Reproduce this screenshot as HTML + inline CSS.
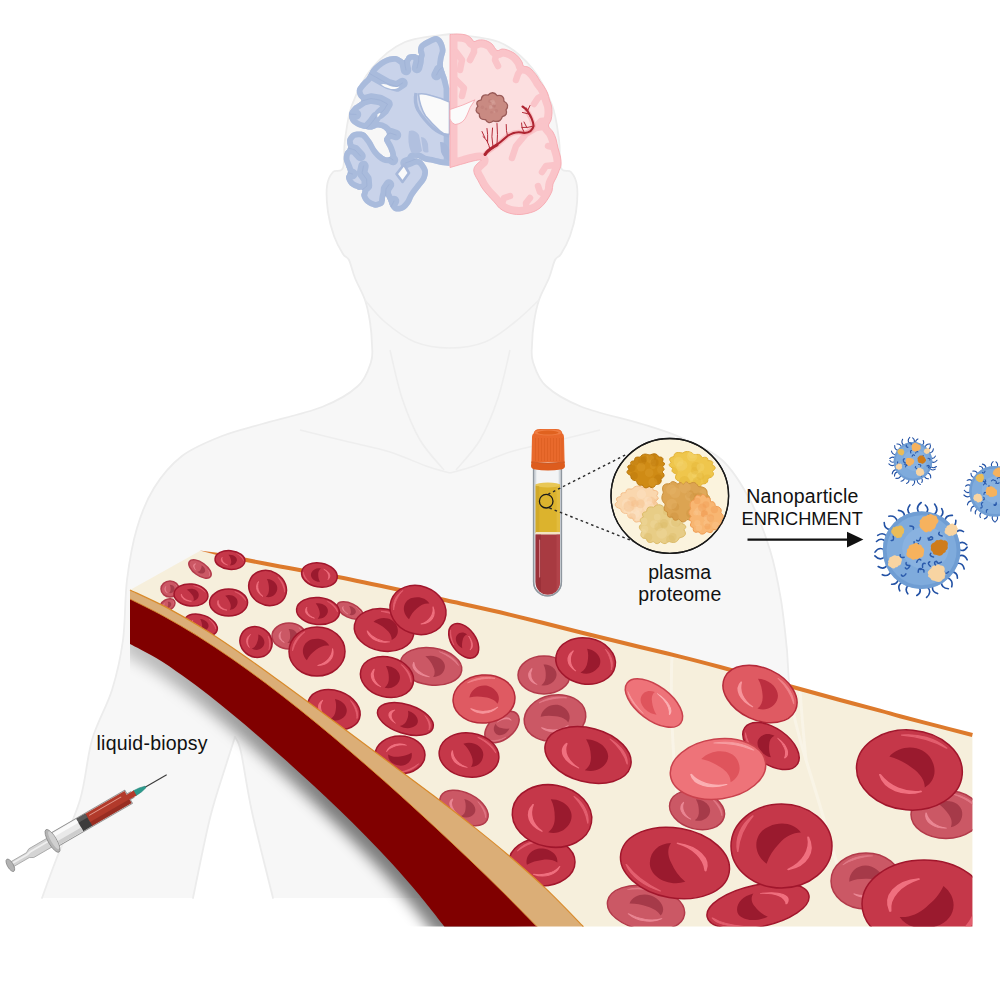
<!DOCTYPE html>
<html lang="en"><head><meta charset="utf-8"><title>Liquid biopsy plasma proteome nanoparticle enrichment</title>
<style>
html,body{margin:0;padding:0;background:#fff;}
body{width:1000px;height:1000px;overflow:hidden;}
svg{display:block;}
text{font-family:"Liberation Sans",sans-serif;fill:#111;}
</style></head><body>
<svg width="1000" height="1000" viewBox="0 0 1000 1000">
<defs>
<filter id="blur6" x="-20%" y="-20%" width="140%" height="140%"><feGaussianBlur stdDeviation="7"/></filter>
<clipPath id="vclip"><rect x="130" y="0" width="842.4" height="926.6"/></clipPath>
<linearGradient id="shg" gradientUnits="userSpaceOnUse" x1="130" y1="0" x2="330" y2="0"><stop offset="0" stop-color="#fff" stop-opacity="0.4"/><stop offset="1" stop-color="#fff" stop-opacity="1"/></linearGradient>
<mask id="shm" maskUnits="userSpaceOnUse" x="0" y="0" width="1000" height="1000"><rect width="1000" height="1000" fill="url(#shg)"/></mask>
</defs>
<rect width="1000" height="1000" fill="#fff"/>
<g id="body">
<path d="M450 34C442.5 35.3 418 36.3 405 42C392 47.7 380.8 57.5 372 68C363.2 78.5 356.5 93 352 105C347.5 117 346.5 129.5 345 140C343.5 150.5 345 162.7 343 168C341 173.3 335.7 169 333 172C330.3 175 327.8 179.3 327 186C326.2 192.7 326.8 203.7 328 212C329.2 220.3 331.5 229 334 236C336.5 243 340.5 250 343 254C345.5 258 347 256 349 260C351 264 352.3 271.3 355 278C357.7 284.7 362.5 292.7 365 300C367.5 307.3 368.8 314.5 370 322C371.2 329.5 371.8 338.3 372 345C372.2 351.7 373.3 355.2 371 362C368.7 368.8 366.2 378.5 358 386C349.8 393.5 338 400.7 322 407C306 413.3 278.7 419.2 262 424C245.3 428.8 235.3 430.7 222 436C208.7 441.3 193.3 447.3 182 456C170.7 464.7 161.5 476 154 488C146.5 500 141.5 512.7 137 528C132.5 543.3 129.3 561.3 127 580C124.7 598.7 125.5 621.7 123 640C120.5 658.3 117.2 673.3 112 690C106.8 706.7 97.3 721.7 92 740C86.7 758.3 86 780 80 800C74 820 62.3 843.7 56 860C49.7 876.3 44.3 891.7 42 898L193 898C195.8 884.7 204.5 840.2 210 818C215.5 795.8 221.8 778.5 226 765C230.2 751.5 233.5 741.7 235 737C236 739.5 238.2 739.5 241 752C243.8 764.5 246.7 787.7 252 812C257.3 836.3 269.5 883.7 273 898L700 898L790 700L787 650C786 641.7 783.8 616.7 781 600C778.2 583.3 775.2 566.7 770 550C764.8 533.3 758 515 750 500C742 485 733.3 470.3 722 460C710.7 449.7 695.3 444 682 438C668.7 432 658.7 429.2 642 424C625.3 418.8 598 413.3 582 407C566 400.7 554.2 393.5 546 386C537.8 378.5 535.3 368.8 533 362C530.7 355.2 531.8 351.7 532 345C532.2 338.3 532.8 329.5 534 322C535.2 314.5 536.5 307.3 539 300C541.5 292.7 546.3 284.7 549 278C551.7 271.3 553 264 555 260C557 256 558.5 258 561 254C563.5 250 567.5 243 570 236C572.5 229 574.8 220.3 576 212C577.2 203.7 577.8 192.7 577 186C576.2 179.3 573.7 175 571 172C568.3 169 563 173.3 561 168C559 162.7 560.5 150.5 559 140C557.5 129.5 556.5 117 552 105C547.5 93 540.8 78.5 532 68C523.2 57.5 512.7 47.7 499 42C485.3 36.3 458.2 35.3 450 34Z" fill="#f7f7f7"/>
<path d="M450 34C442.5 35.3 418 36.3 405 42C392 47.7 380.8 57.5 372 68C363.2 78.5 356.5 93 352 105C347.5 117 346.5 129.5 345 140C343.5 150.5 345 162.7 343 168C341 173.3 335.7 169 333 172C330.3 175 327.8 179.3 327 186C326.2 192.7 326.8 203.7 328 212C329.2 220.3 331.5 229 334 236C336.5 243 340.5 250 343 254C345.5 258 347 256 349 260C351 264 352.3 271.3 355 278C357.7 284.7 362.5 292.7 365 300C367.5 307.3 368.8 314.5 370 322C371.2 329.5 371.8 338.3 372 345C372.2 351.7 373.3 355.2 371 362C368.7 368.8 366.2 378.5 358 386C349.8 393.5 338 400.7 322 407C306 413.3 278.7 419.2 262 424C245.3 428.8 235.3 430.7 222 436C208.7 441.3 193.3 447.3 182 456C170.7 464.7 161.5 476 154 488C146.5 500 141.5 512.7 137 528C132.5 543.3 129.3 561.3 127 580C124.7 598.7 125.5 621.7 123 640C120.5 658.3 117.2 673.3 112 690C106.8 706.7 97.3 721.7 92 740C86.7 758.3 86 780 80 800C74 820 62.3 843.7 56 860C49.7 876.3 44.3 891.7 42 898" fill="none" stroke="#ececec" stroke-width="1.8" stroke-linejoin="round" stroke-linecap="round"/>
<path d="M193 898C195.8 884.7 204.5 840.2 210 818C215.5 795.8 221.8 778.5 226 765C230.2 751.5 233.5 741.7 235 737C236 739.5 238.2 739.5 241 752C243.8 764.5 246.7 787.7 252 812C257.3 836.3 269.5 883.7 273 898" fill="none" stroke="#ececec" stroke-width="1.8" stroke-linejoin="round" stroke-linecap="round"/>
<path d="M790 700L787 650C786 641.7 783.8 616.7 781 600C778.2 583.3 775.2 566.7 770 550C764.8 533.3 758 515 750 500C742 485 733.3 470.3 722 460C710.7 449.7 695.3 444 682 438C668.7 432 658.7 429.2 642 424C625.3 418.8 598 413.3 582 407C566 400.7 554.2 393.5 546 386C537.8 378.5 535.3 368.8 533 362C530.7 355.2 531.8 351.7 532 345C532.2 338.3 532.8 329.5 534 322C535.2 314.5 536.5 307.3 539 300C541.5 292.7 546.3 284.7 549 278C551.7 271.3 553 264 555 260C557 256 558.5 258 561 254C563.5 250 567.5 243 570 236C572.5 229 574.8 220.3 576 212C577.2 203.7 577.8 192.7 577 186C576.2 179.3 573.7 175 571 172C568.3 169 563 173.3 561 168C559 162.7 560.5 150.5 559 140C557.5 129.5 556.5 117 552 105C547.5 93 540.8 78.5 532 68C523.2 57.5 512.7 47.7 499 42C485.3 36.3 458.2 35.3 450 34" fill="none" stroke="#ececec" stroke-width="1.8" stroke-linejoin="round" stroke-linecap="round"/>
<path d="M365 300C368.3 303.7 376.7 315 385 322C393.3 329 404.2 337.7 415 342C425.8 346.3 438.3 348 450 348C461.7 348 474.2 346.3 485 342C495.8 337.7 506 329 515 322C524 315 535 303.7 539 300" fill="none" stroke="#eeeeee" stroke-width="1.6"/>
<path d="M300 430C307.5 431.8 330 437.3 345 441C360 444.7 376.5 447.8 390 452C403.5 456.2 416 462.5 426 466C436 469.5 446 471.8 450 473" fill="none" stroke="#eeeeee" stroke-width="1.6"/>
<path d="M600 430C592.5 431.8 570 437.3 555 441C540 444.7 523.5 447.8 510 452C496.5 456.2 484 462.5 474 466C464 469.5 454 471.8 450 473" fill="none" stroke="#eeeeee" stroke-width="1.6"/>
<path d="M390 350C392 358 397 383 402 398C407 413 413 428 420 440C427 452 440 465 444 470" fill="none" stroke="#eeeeee" stroke-width="1.6"/>
<path d="M510 350C508 358 503 383 498 398C493 413 487 428 480 440C473 452 460 465 456 470" fill="none" stroke="#eeeeee" stroke-width="1.6"/>
</g>
<g id="brain">
<clipPath id="lhc"><path d="M449.5 166C448.1 165.8 443.8 165.5 441 165C438.2 164.5 435.7 163.6 433 163C430.3 162.4 427.5 162.3 425 161.5C422.5 160.7 420 158.6 418 158C416 157.4 412.5 157.7 413 158C413.5 158.3 418.8 158.7 421 160C423.2 161.3 424.8 164 426 166C427.2 168 428 169.7 428 172C428 174.3 427.3 177.3 426 180C424.7 182.7 422 185.3 420 188C418 190.7 415.7 193.3 414 196C412.3 198.7 411.7 201.7 410 204C408.3 206.3 406.3 208.8 404 210C401.7 211.2 398.2 211.9 396 211.5C393.8 211.1 392.3 209.4 391 207.5C389.7 205.6 388.9 201.9 388 200C387.1 198.1 386.2 195.3 385.5 196C384.8 196.7 385.1 202.2 384 204C382.9 205.8 380.7 206.4 379 207C377.3 207.6 376.2 208.1 374 207.5C371.8 206.9 368.1 205.3 366 203.5C363.9 201.7 362.1 198.8 361.5 196.5C360.9 194.2 363.1 191.2 362.5 190C361.9 188.8 360.1 190.2 358 189.5C355.9 188.8 352 187.4 350 185.5C348 183.6 346.3 180.2 346 178C345.7 175.8 348 174 348 172C348 170 346.7 168 346 166C345.3 164 344.1 162.2 343.8 160C343.6 157.8 343.8 155 344.5 153C345.2 151 347.6 150.1 348 148C348.4 145.9 346.8 142.6 347 140.5C347.2 138.4 348.5 136.8 349.5 135.5C350.5 134.2 351.4 133.2 353 132.5C354.6 131.8 357 131.4 359 131.5C361 131.6 363 131.6 365 133C367 134.4 369 137.2 371 140C373 142.8 374.7 147.2 377 150C379.3 152.8 382.8 156 385 157C387.2 158 390 157.5 390.5 156C391 154.5 389.1 150.7 388 148C386.9 145.3 384.2 142.3 384 140C383.8 137.7 387 135.8 387 134C387 132.2 385.5 130.6 384 129.5C382.5 128.4 380 127.5 378 127.5C376 127.5 374 129.2 372 129.5C370 129.8 368.3 129.4 366 129C363.7 128.6 360.5 128.2 358 127C355.5 125.8 352.5 124.2 351 122C349.5 119.8 348.7 116.5 349 114C349.3 111.5 351.5 108.8 353 107C354.5 105.2 356.6 104.6 358 103.5C359.4 102.4 361.5 101.8 361.5 100.5C361.5 99.2 358.8 97.9 358 96C357.2 94.1 356.3 91.3 357 89C357.7 86.7 360.3 84 362 82C363.7 80 365.8 78.6 367 77C368.2 75.4 368.5 74.2 369.5 72.5C370.5 70.8 371.2 68.9 373 67C374.8 65.1 377.5 62.7 380 61C382.5 59.3 385.3 57.8 388 57C390.7 56.2 393.8 55.8 396 56C398.2 56.2 399.6 57.8 401 58.5C402.4 59.2 403.3 60.6 404.5 60C405.7 59.4 406.4 56 408 55C409.6 54 412.2 53.9 414 54C415.8 54.1 418.3 56.2 419 55.5C419.7 54.8 417.8 51.9 418 50C418.2 48.1 418.3 45.8 420 44C421.7 42.2 425.3 40.3 428 39C430.7 37.7 434 35.8 436.4 36C438.8 36.2 441 38.2 442.5 40.5C444 42.8 445.3 46.9 445.5 50C445.7 53.1 443.9 56.2 443.5 59C443.1 61.8 442.5 64 443 67C443.5 70 445.4 73.5 446.5 77C447.6 80.5 448.8 86.2 449.3 88Z"/></clipPath><clipPath id="rhc"><path d="M450 34.5C451.3 34.4 455.3 33.9 458 34C460.7 34.1 463.8 34.3 466 35C468.2 35.7 469.7 36.9 471 38C472.3 39.1 472.7 41.2 474 41.5C475.3 41.8 477.1 40.2 479 40C480.9 39.8 483.3 39.8 485.5 40.5C487.7 41.2 490.1 42.3 492 44C493.9 45.7 495.3 49.7 497 50.5C498.7 51.3 500.2 49.1 502 49C503.8 48.9 505.6 49.3 507.6 50C509.6 50.7 512.1 51.8 514 53C515.9 54.2 517.7 56 519 57.5C520.3 59 521.2 60.6 522 62C522.8 63.4 522.5 65.2 523.5 66C524.5 66.8 526.6 66.3 528 67C529.4 67.7 530.5 68.5 532 70C533.5 71.5 535.7 74.2 537 76C538.3 77.8 538.8 79.2 540 81C541.2 82.8 542.8 84.5 544 86.5C545.2 88.5 546.6 90.8 547.5 93C548.4 95.2 548.8 97.8 549.5 100C550.2 102.2 551.1 103.8 551.5 106C551.9 108.2 552.1 110.7 552 113C551.9 115.3 551.6 117.8 551 120C550.4 122.2 548.2 124 548.5 126C548.8 128 551.8 129.8 553 132C554.2 134.2 555.2 136.3 556 139C556.8 141.7 557.2 145 558 148C558.8 151 560 154.2 560.5 157C561 159.8 561.3 162.5 561 165C560.7 167.5 559.3 169.8 558.5 172C557.7 174.2 556.9 176 556 178C555.1 180 553.7 181.8 553 184C552.3 186.2 552.7 188.8 552 191C551.3 193.2 550.2 195 549 197C547.8 199 546.5 201.2 545 203C543.5 204.8 541.8 206.6 540 208C538.2 209.4 536.2 210.6 534 211.5C531.8 212.4 529.3 213 527 213.5C524.7 214 522.3 214.4 520 214.5C517.7 214.6 515.3 214.4 513 214C510.7 213.6 508.2 212.9 506 212C503.8 211.1 501.7 209.8 500 208.5C498.3 207.2 497.5 205.7 496 204C494.5 202.3 492.7 200.3 491 198.5C489.3 196.7 487.6 194.9 486 193C484.4 191.1 482.8 189.1 481.5 187C480.2 184.9 479.2 182.7 478 180.5C476.8 178.3 475.2 176 474.5 174C473.8 172 473.6 170.2 474 168.5C474.4 166.8 475.8 165.4 477 164C478.2 162.6 481.7 160.5 481 160C480.3 159.5 475.8 160.4 473 161C470.2 161.6 466.7 162.8 464 163.5C461.3 164.2 459.3 164.8 457 165.5C454.7 166.2 451.2 167.2 450 167.5Z"/></clipPath>
<path d="M449.5 166C448.1 165.8 443.8 165.5 441 165C438.2 164.5 435.7 163.6 433 163C430.3 162.4 427.5 162.3 425 161.5C422.5 160.7 420 158.6 418 158C416 157.4 412.5 157.7 413 158C413.5 158.3 418.8 158.7 421 160C423.2 161.3 424.8 164 426 166C427.2 168 428 169.7 428 172C428 174.3 427.3 177.3 426 180C424.7 182.7 422 185.3 420 188C418 190.7 415.7 193.3 414 196C412.3 198.7 411.7 201.7 410 204C408.3 206.3 406.3 208.8 404 210C401.7 211.2 398.2 211.9 396 211.5C393.8 211.1 392.3 209.4 391 207.5C389.7 205.6 388.9 201.9 388 200C387.1 198.1 386.2 195.3 385.5 196C384.8 196.7 385.1 202.2 384 204C382.9 205.8 380.7 206.4 379 207C377.3 207.6 376.2 208.1 374 207.5C371.8 206.9 368.1 205.3 366 203.5C363.9 201.7 362.1 198.8 361.5 196.5C360.9 194.2 363.1 191.2 362.5 190C361.9 188.8 360.1 190.2 358 189.5C355.9 188.8 352 187.4 350 185.5C348 183.6 346.3 180.2 346 178C345.7 175.8 348 174 348 172C348 170 346.7 168 346 166C345.3 164 344.1 162.2 343.8 160C343.6 157.8 343.8 155 344.5 153C345.2 151 347.6 150.1 348 148C348.4 145.9 346.8 142.6 347 140.5C347.2 138.4 348.5 136.8 349.5 135.5C350.5 134.2 351.4 133.2 353 132.5C354.6 131.8 357 131.4 359 131.5C361 131.6 363 131.6 365 133C367 134.4 369 137.2 371 140C373 142.8 374.7 147.2 377 150C379.3 152.8 382.8 156 385 157C387.2 158 390 157.5 390.5 156C391 154.5 389.1 150.7 388 148C386.9 145.3 384.2 142.3 384 140C383.8 137.7 387 135.8 387 134C387 132.2 385.5 130.6 384 129.5C382.5 128.4 380 127.5 378 127.5C376 127.5 374 129.2 372 129.5C370 129.8 368.3 129.4 366 129C363.7 128.6 360.5 128.2 358 127C355.5 125.8 352.5 124.2 351 122C349.5 119.8 348.7 116.5 349 114C349.3 111.5 351.5 108.8 353 107C354.5 105.2 356.6 104.6 358 103.5C359.4 102.4 361.5 101.8 361.5 100.5C361.5 99.2 358.8 97.9 358 96C357.2 94.1 356.3 91.3 357 89C357.7 86.7 360.3 84 362 82C363.7 80 365.8 78.6 367 77C368.2 75.4 368.5 74.2 369.5 72.5C370.5 70.8 371.2 68.9 373 67C374.8 65.1 377.5 62.7 380 61C382.5 59.3 385.3 57.8 388 57C390.7 56.2 393.8 55.8 396 56C398.2 56.2 399.6 57.8 401 58.5C402.4 59.2 403.3 60.6 404.5 60C405.7 59.4 406.4 56 408 55C409.6 54 412.2 53.9 414 54C415.8 54.1 418.3 56.2 419 55.5C419.7 54.8 417.8 51.9 418 50C418.2 48.1 418.3 45.8 420 44C421.7 42.2 425.3 40.3 428 39C430.7 37.7 434 35.8 436.4 36C438.8 36.2 441 38.2 442.5 40.5C444 42.8 445.3 46.9 445.5 50C445.7 53.1 443.9 56.2 443.5 59C443.1 61.8 442.5 64 443 67C443.5 70 445.4 73.5 446.5 77C447.6 80.5 448.8 86.2 449.3 88Z" fill="#c9d3ea"/>
<g clip-path="url(#lhc)">
<path d="M449.5 166C448.1 165.8 443.8 165.5 441 165C438.2 164.5 435.7 163.6 433 163C430.3 162.4 427.5 162.3 425 161.5C422.5 160.7 420 158.6 418 158C416 157.4 412.5 157.7 413 158C413.5 158.3 418.8 158.7 421 160C423.2 161.3 424.8 164 426 166C427.2 168 428 169.7 428 172C428 174.3 427.3 177.3 426 180C424.7 182.7 422 185.3 420 188C418 190.7 415.7 193.3 414 196C412.3 198.7 411.7 201.7 410 204C408.3 206.3 406.3 208.8 404 210C401.7 211.2 398.2 211.9 396 211.5C393.8 211.1 392.3 209.4 391 207.5C389.7 205.6 388.9 201.9 388 200C387.1 198.1 386.2 195.3 385.5 196C384.8 196.7 385.1 202.2 384 204C382.9 205.8 380.7 206.4 379 207C377.3 207.6 376.2 208.1 374 207.5C371.8 206.9 368.1 205.3 366 203.5C363.9 201.7 362.1 198.8 361.5 196.5C360.9 194.2 363.1 191.2 362.5 190C361.9 188.8 360.1 190.2 358 189.5C355.9 188.8 352 187.4 350 185.5C348 183.6 346.3 180.2 346 178C345.7 175.8 348 174 348 172C348 170 346.7 168 346 166C345.3 164 344.1 162.2 343.8 160C343.6 157.8 343.8 155 344.5 153C345.2 151 347.6 150.1 348 148C348.4 145.9 346.8 142.6 347 140.5C347.2 138.4 348.5 136.8 349.5 135.5C350.5 134.2 351.4 133.2 353 132.5C354.6 131.8 357 131.4 359 131.5C361 131.6 363 131.6 365 133C367 134.4 369 137.2 371 140C373 142.8 374.7 147.2 377 150C379.3 152.8 382.8 156 385 157C387.2 158 390 157.5 390.5 156C391 154.5 389.1 150.7 388 148C386.9 145.3 384.2 142.3 384 140C383.8 137.7 387 135.8 387 134C387 132.2 385.5 130.6 384 129.5C382.5 128.4 380 127.5 378 127.5C376 127.5 374 129.2 372 129.5C370 129.8 368.3 129.4 366 129C363.7 128.6 360.5 128.2 358 127C355.5 125.8 352.5 124.2 351 122C349.5 119.8 348.7 116.5 349 114C349.3 111.5 351.5 108.8 353 107C354.5 105.2 356.6 104.6 358 103.5C359.4 102.4 361.5 101.8 361.5 100.5C361.5 99.2 358.8 97.9 358 96C357.2 94.1 356.3 91.3 357 89C357.7 86.7 360.3 84 362 82C363.7 80 365.8 78.6 367 77C368.2 75.4 368.5 74.2 369.5 72.5C370.5 70.8 371.2 68.9 373 67C374.8 65.1 377.5 62.7 380 61C382.5 59.3 385.3 57.8 388 57C390.7 56.2 393.8 55.8 396 56C398.2 56.2 399.6 57.8 401 58.5C402.4 59.2 403.3 60.6 404.5 60C405.7 59.4 406.4 56 408 55C409.6 54 412.2 53.9 414 54C415.8 54.1 418.3 56.2 419 55.5C419.7 54.8 417.8 51.9 418 50C418.2 48.1 418.3 45.8 420 44C421.7 42.2 425.3 40.3 428 39C430.7 37.7 434 35.8 436.4 36C438.8 36.2 441 38.2 442.5 40.5C444 42.8 445.3 46.9 445.5 50C445.7 53.1 443.9 56.2 443.5 59C443.1 61.8 442.5 64 443 67C443.5 70 445.4 73.5 446.5 77C447.6 80.5 448.8 86.2 449.3 88Z" fill="none" stroke="#a9bbdc" stroke-width="11.5" stroke-linejoin="round"/>
<path d="M419 55L418.5 62L417 68" fill="none" stroke="#a9bbdc" stroke-width="10.5" stroke-linecap="round" stroke-linejoin="round"/>
<path d="M404.5 60L405 65L406 70" fill="none" stroke="#a9bbdc" stroke-width="10.5" stroke-linecap="round" stroke-linejoin="round"/>
<path d="M443 67L439 70L436.5 75" fill="none" stroke="#a9bbdc" stroke-width="10.5" stroke-linecap="round" stroke-linejoin="round"/>
<path d="M369.5 73.5L380 79.5L388 84L397 86.5L402.5 83" fill="none" stroke="#a9bbdc" stroke-width="10.5" stroke-linecap="round" stroke-linejoin="round"/>
<path d="M361.5 101L371 98.5L380 100L387.5 104L384 110L379.5 114" fill="none" stroke="#a9bbdc" stroke-width="10.5" stroke-linecap="round" stroke-linejoin="round"/>
<path d="M366 129L372 122.5L376 117" fill="none" stroke="#a9bbdc" stroke-width="10.5" stroke-linecap="round" stroke-linejoin="round"/>
<path d="M349 114L356 114.5" fill="none" stroke="#a9bbdc" stroke-width="10.5" stroke-linecap="round" stroke-linejoin="round"/>
<path d="M385.5 196L386 189L389 184.5" fill="none" stroke="#a9bbdc" stroke-width="10.5" stroke-linecap="round" stroke-linejoin="round"/>
<path d="M362 190L367 186L366.5 179L362 173L363.5 166" fill="none" stroke="#a9bbdc" stroke-width="10.5" stroke-linecap="round" stroke-linejoin="round"/>
<path d="M348 148L355 150L360.5 156" fill="none" stroke="#a9bbdc" stroke-width="10.5" stroke-linecap="round" stroke-linejoin="round"/>
<path d="M346 172L352.5 174" fill="none" stroke="#a9bbdc" stroke-width="10.5" stroke-linecap="round" stroke-linejoin="round"/>
<path d="M418 158L411 161L405.5 163" fill="none" stroke="#a9bbdc" stroke-width="10.5" stroke-linecap="round" stroke-linejoin="round"/>
<path d="M391 207L394 201" fill="none" stroke="#a9bbdc" stroke-width="10.5" stroke-linecap="round" stroke-linejoin="round"/>
<path d="M384 136L390 133L396 135" fill="none" stroke="#a9bbdc" stroke-width="10.5" stroke-linecap="round" stroke-linejoin="round"/>
<path d="M386 155L393 160" fill="none" stroke="#a9bbdc" stroke-width="10.5" stroke-linecap="round" stroke-linejoin="round"/>
<path d="M419 55L418.5 62L417 68" fill="none" stroke="#9fb2d6" stroke-width="1" stroke-linecap="round" stroke-linejoin="round" opacity="0.8"/>
<path d="M404.5 60L405 65L406 70" fill="none" stroke="#9fb2d6" stroke-width="1" stroke-linecap="round" stroke-linejoin="round" opacity="0.8"/>
<path d="M443 67L439 70L436.5 75" fill="none" stroke="#9fb2d6" stroke-width="1" stroke-linecap="round" stroke-linejoin="round" opacity="0.8"/>
<path d="M369.5 73.5L380 79.5L388 84L397 86.5L402.5 83" fill="none" stroke="#9fb2d6" stroke-width="1" stroke-linecap="round" stroke-linejoin="round" opacity="0.8"/>
<path d="M361.5 101L371 98.5L380 100L387.5 104L384 110L379.5 114" fill="none" stroke="#9fb2d6" stroke-width="1" stroke-linecap="round" stroke-linejoin="round" opacity="0.8"/>
<path d="M366 129L372 122.5L376 117" fill="none" stroke="#9fb2d6" stroke-width="1" stroke-linecap="round" stroke-linejoin="round" opacity="0.8"/>
<path d="M349 114L356 114.5" fill="none" stroke="#9fb2d6" stroke-width="1" stroke-linecap="round" stroke-linejoin="round" opacity="0.8"/>
<path d="M385.5 196L386 189L389 184.5" fill="none" stroke="#9fb2d6" stroke-width="1" stroke-linecap="round" stroke-linejoin="round" opacity="0.8"/>
<path d="M362 190L367 186L366.5 179L362 173L363.5 166" fill="none" stroke="#9fb2d6" stroke-width="1" stroke-linecap="round" stroke-linejoin="round" opacity="0.8"/>
<path d="M348 148L355 150L360.5 156" fill="none" stroke="#9fb2d6" stroke-width="1" stroke-linecap="round" stroke-linejoin="round" opacity="0.8"/>
<path d="M346 172L352.5 174" fill="none" stroke="#9fb2d6" stroke-width="1" stroke-linecap="round" stroke-linejoin="round" opacity="0.8"/>
<path d="M418 158L411 161L405.5 163" fill="none" stroke="#9fb2d6" stroke-width="1" stroke-linecap="round" stroke-linejoin="round" opacity="0.8"/>
<path d="M391 207L394 201" fill="none" stroke="#9fb2d6" stroke-width="1" stroke-linecap="round" stroke-linejoin="round" opacity="0.8"/>
<path d="M384 136L390 133L396 135" fill="none" stroke="#9fb2d6" stroke-width="1" stroke-linecap="round" stroke-linejoin="round" opacity="0.8"/>
<path d="M386 155L393 160" fill="none" stroke="#9fb2d6" stroke-width="1" stroke-linecap="round" stroke-linejoin="round" opacity="0.8"/>
<path d="M409 131Q415 129 419 135L422 151Q417 155 411 152Q407 142 409 131Z" fill="#b1c0df"/>
<path d="M421 137Q426 137 428 144L428.5 152Q425 153.5 423 151Z" fill="#b1c0df"/>
<path d="M440 142Q446 141 449.5 150V161Q443 158 441 152Z" fill="#a7b8da"/>
<path d="M416 93Q414 102 418 110Q424 120 433 128Q440 134 449.5 136" fill="none" stroke="#a7b8da" stroke-width="3.4"/>
</g>
<path d="M418.5 94Q424 93 431 95.5Q441 98 449.5 102V134Q444 135 440 131Q432 124 425.5 116Q419.5 106 418.5 94Z" fill="#fafafa" stroke="#a7b8da" stroke-width="1.6" stroke-linejoin="round"/>
<path d="M381 84.4Q385 83.4 390 86Q395 88 399.5 86.4Q397 89.6 391 89Q385 88 381 84.4Z" fill="#fafafa"/>
<path d="M396.5 174L404 164.5L409 173L402.5 182Z" fill="#fafafa" stroke="#a7b8da" stroke-width="2.6" stroke-linejoin="round"/>
<path d="M377.4 114.6Q379.5 112 380.6 113.4Q379 116 377.4 117.6Z" fill="#fafafa"/>
<path d="M450 34.5C451.3 34.4 455.3 33.9 458 34C460.7 34.1 463.8 34.3 466 35C468.2 35.7 469.7 36.9 471 38C472.3 39.1 472.7 41.2 474 41.5C475.3 41.8 477.1 40.2 479 40C480.9 39.8 483.3 39.8 485.5 40.5C487.7 41.2 490.1 42.3 492 44C493.9 45.7 495.3 49.7 497 50.5C498.7 51.3 500.2 49.1 502 49C503.8 48.9 505.6 49.3 507.6 50C509.6 50.7 512.1 51.8 514 53C515.9 54.2 517.7 56 519 57.5C520.3 59 521.2 60.6 522 62C522.8 63.4 522.5 65.2 523.5 66C524.5 66.8 526.6 66.3 528 67C529.4 67.7 530.5 68.5 532 70C533.5 71.5 535.7 74.2 537 76C538.3 77.8 538.8 79.2 540 81C541.2 82.8 542.8 84.5 544 86.5C545.2 88.5 546.6 90.8 547.5 93C548.4 95.2 548.8 97.8 549.5 100C550.2 102.2 551.1 103.8 551.5 106C551.9 108.2 552.1 110.7 552 113C551.9 115.3 551.6 117.8 551 120C550.4 122.2 548.2 124 548.5 126C548.8 128 551.8 129.8 553 132C554.2 134.2 555.2 136.3 556 139C556.8 141.7 557.2 145 558 148C558.8 151 560 154.2 560.5 157C561 159.8 561.3 162.5 561 165C560.7 167.5 559.3 169.8 558.5 172C557.7 174.2 556.9 176 556 178C555.1 180 553.7 181.8 553 184C552.3 186.2 552.7 188.8 552 191C551.3 193.2 550.2 195 549 197C547.8 199 546.5 201.2 545 203C543.5 204.8 541.8 206.6 540 208C538.2 209.4 536.2 210.6 534 211.5C531.8 212.4 529.3 213 527 213.5C524.7 214 522.3 214.4 520 214.5C517.7 214.6 515.3 214.4 513 214C510.7 213.6 508.2 212.9 506 212C503.8 211.1 501.7 209.8 500 208.5C498.3 207.2 497.5 205.7 496 204C494.5 202.3 492.7 200.3 491 198.5C489.3 196.7 487.6 194.9 486 193C484.4 191.1 482.8 189.1 481.5 187C480.2 184.9 479.2 182.7 478 180.5C476.8 178.3 475.2 176 474.5 174C473.8 172 473.6 170.2 474 168.5C474.4 166.8 475.8 165.4 477 164C478.2 162.6 481.7 160.5 481 160C480.3 159.5 475.8 160.4 473 161C470.2 161.6 466.7 162.8 464 163.5C461.3 164.2 459.3 164.8 457 165.5C454.7 166.2 451.2 167.2 450 167.5Z" fill="#fcdfe0"/>
<g clip-path="url(#rhc)">
<path d="M450 34.5C451.3 34.4 455.3 33.9 458 34C460.7 34.1 463.8 34.3 466 35C468.2 35.7 469.7 36.9 471 38C472.3 39.1 472.7 41.2 474 41.5C475.3 41.8 477.1 40.2 479 40C480.9 39.8 483.3 39.8 485.5 40.5C487.7 41.2 490.1 42.3 492 44C493.9 45.7 495.3 49.7 497 50.5C498.7 51.3 500.2 49.1 502 49C503.8 48.9 505.6 49.3 507.6 50C509.6 50.7 512.1 51.8 514 53C515.9 54.2 517.7 56 519 57.5C520.3 59 521.2 60.6 522 62C522.8 63.4 522.5 65.2 523.5 66C524.5 66.8 526.6 66.3 528 67C529.4 67.7 530.5 68.5 532 70C533.5 71.5 535.7 74.2 537 76C538.3 77.8 538.8 79.2 540 81C541.2 82.8 542.8 84.5 544 86.5C545.2 88.5 546.6 90.8 547.5 93C548.4 95.2 548.8 97.8 549.5 100C550.2 102.2 551.1 103.8 551.5 106C551.9 108.2 552.1 110.7 552 113C551.9 115.3 551.6 117.8 551 120C550.4 122.2 548.2 124 548.5 126C548.8 128 551.8 129.8 553 132C554.2 134.2 555.2 136.3 556 139C556.8 141.7 557.2 145 558 148C558.8 151 560 154.2 560.5 157C561 159.8 561.3 162.5 561 165C560.7 167.5 559.3 169.8 558.5 172C557.7 174.2 556.9 176 556 178C555.1 180 553.7 181.8 553 184C552.3 186.2 552.7 188.8 552 191C551.3 193.2 550.2 195 549 197C547.8 199 546.5 201.2 545 203C543.5 204.8 541.8 206.6 540 208C538.2 209.4 536.2 210.6 534 211.5C531.8 212.4 529.3 213 527 213.5C524.7 214 522.3 214.4 520 214.5C517.7 214.6 515.3 214.4 513 214C510.7 213.6 508.2 212.9 506 212C503.8 211.1 501.7 209.8 500 208.5C498.3 207.2 497.5 205.7 496 204C494.5 202.3 492.7 200.3 491 198.5C489.3 196.7 487.6 194.9 486 193C484.4 191.1 482.8 189.1 481.5 187C480.2 184.9 479.2 182.7 478 180.5C476.8 178.3 475.2 176 474.5 174C473.8 172 473.6 170.2 474 168.5C474.4 166.8 475.8 165.4 477 164C478.2 162.6 481.7 160.5 481 160C480.3 159.5 475.8 160.4 473 161C470.2 161.6 466.7 162.8 464 163.5C461.3 164.2 459.3 164.8 457 165.5C454.7 166.2 451.2 167.2 450 167.5Z" fill="none" stroke="#fac4c9" stroke-width="15" stroke-linejoin="round"/>
<path d="M474 41.5L474 52L470 60" fill="none" stroke="#fac4c9" stroke-width="6.5" stroke-linecap="round" stroke-linejoin="round"/>
<path d="M497 50.5L495 60L498 66" fill="none" stroke="#fac4c9" stroke-width="6.5" stroke-linecap="round" stroke-linejoin="round"/>
<path d="M523.5 66L518 74L516 80" fill="none" stroke="#fac4c9" stroke-width="6.5" stroke-linecap="round" stroke-linejoin="round"/>
<path d="M547 93L538 98L534 104" fill="none" stroke="#fac4c9" stroke-width="6.5" stroke-linecap="round" stroke-linejoin="round"/>
<path d="M551 120L541 121L536 126" fill="none" stroke="#fac4c9" stroke-width="6.5" stroke-linecap="round" stroke-linejoin="round"/>
<path d="M456 52L462 60L460 70" fill="none" stroke="#fac4c9" stroke-width="6.5" stroke-linecap="round" stroke-linejoin="round"/>
<path d="M456 80L464 88L462 96" fill="none" stroke="#fac4c9" stroke-width="6.5" stroke-linecap="round" stroke-linejoin="round"/>
<path d="M548.5 126L536 128L526 134L516 146L512 158" fill="none" stroke="#fac4c9" stroke-width="6.5" stroke-linecap="round" stroke-linejoin="round"/>
<path d="M549 197L540 192L538 186" fill="none" stroke="#fac4c9" stroke-width="6.5" stroke-linecap="round" stroke-linejoin="round"/>
<path d="M556 165L546 166L542 172" fill="none" stroke="#fac4c9" stroke-width="6.5" stroke-linecap="round" stroke-linejoin="round"/>
<path d="M500 208.5L504 198L510 196" fill="none" stroke="#fac4c9" stroke-width="6.5" stroke-linecap="round" stroke-linejoin="round"/>
<path d="M527 213.5L526 203L530 198" fill="none" stroke="#fac4c9" stroke-width="6.5" stroke-linecap="round" stroke-linejoin="round"/>
<path d="M558 148L548 146" fill="none" stroke="#fac4c9" stroke-width="6.5" stroke-linecap="round" stroke-linejoin="round"/>
</g>
<path d="M450 34.5C451.3 34.4 455.3 33.9 458 34C460.7 34.1 463.8 34.3 466 35C468.2 35.7 469.7 36.9 471 38C472.3 39.1 472.7 41.2 474 41.5C475.3 41.8 477.1 40.2 479 40C480.9 39.8 483.3 39.8 485.5 40.5C487.7 41.2 490.1 42.3 492 44C493.9 45.7 495.3 49.7 497 50.5C498.7 51.3 500.2 49.1 502 49C503.8 48.9 505.6 49.3 507.6 50C509.6 50.7 512.1 51.8 514 53C515.9 54.2 517.7 56 519 57.5C520.3 59 521.2 60.6 522 62C522.8 63.4 522.5 65.2 523.5 66C524.5 66.8 526.6 66.3 528 67C529.4 67.7 530.5 68.5 532 70C533.5 71.5 535.7 74.2 537 76C538.3 77.8 538.8 79.2 540 81C541.2 82.8 542.8 84.5 544 86.5C545.2 88.5 546.6 90.8 547.5 93C548.4 95.2 548.8 97.8 549.5 100C550.2 102.2 551.1 103.8 551.5 106C551.9 108.2 552.1 110.7 552 113C551.9 115.3 551.6 117.8 551 120C550.4 122.2 548.2 124 548.5 126C548.8 128 551.8 129.8 553 132C554.2 134.2 555.2 136.3 556 139C556.8 141.7 557.2 145 558 148C558.8 151 560 154.2 560.5 157C561 159.8 561.3 162.5 561 165C560.7 167.5 559.3 169.8 558.5 172C557.7 174.2 556.9 176 556 178C555.1 180 553.7 181.8 553 184C552.3 186.2 552.7 188.8 552 191C551.3 193.2 550.2 195 549 197C547.8 199 546.5 201.2 545 203C543.5 204.8 541.8 206.6 540 208C538.2 209.4 536.2 210.6 534 211.5C531.8 212.4 529.3 213 527 213.5C524.7 214 522.3 214.4 520 214.5C517.7 214.6 515.3 214.4 513 214C510.7 213.6 508.2 212.9 506 212C503.8 211.1 501.7 209.8 500 208.5C498.3 207.2 497.5 205.7 496 204C494.5 202.3 492.7 200.3 491 198.5C489.3 196.7 487.6 194.9 486 193C484.4 191.1 482.8 189.1 481.5 187C480.2 184.9 479.2 182.7 478 180.5C476.8 178.3 475.2 176 474.5 174C473.8 172 473.6 170.2 474 168.5C474.4 166.8 475.8 165.4 477 164C478.2 162.6 481.7 160.5 481 160C480.3 159.5 475.8 160.4 473 161C470.2 161.6 466.7 162.8 464 163.5C461.3 164.2 459.3 164.8 457 165.5C454.7 166.2 451.2 167.2 450 167.5Z" fill="none" stroke="#f6aab2" stroke-width="0.9"/>
<path d="M450 109.5Q463 105.5 475 99.8Q469.5 107 467 115Q463.5 124 455 124.5Q451 123 450 119Z" fill="#fbfbfb" stroke="#f6aab2" stroke-width="0.9"/>
<path d="M486 153Q498 145 507.5 136Q515 130.5 524.5 133Q532 132 533.5 126Q532 118 527 111" fill="none" stroke="#f59aa0" stroke-width="5" opacity="0.45" stroke-linecap="round"/>
<path d="M485.5 154Q487 150 492 148Q500 143 507.5 136Q515 130.5 524.5 133Q532 132.5 533.6 126Q533 119 527.5 111Q525 108 522.5 106.5" fill="none" stroke="#ae2431" stroke-width="2.1" stroke-linecap="round"/>
<path d="M485 154.5Q489 149 497 145" fill="none" stroke="#ae2431" stroke-width="3" stroke-linecap="round"/>
<path d="M507.5 136Q506 131 506.2 124.5" fill="none" stroke="#b32a37" stroke-width="1" stroke-linecap="round"/>
<path d="M497 145Q498 135 497 123.5" fill="none" stroke="#b32a37" stroke-width="1" stroke-linecap="round"/>
<path d="M490 149.5Q488 140 483 136.5M487.6 142Q488 134 487 128.5M485 138L482 131.5" fill="none" stroke="#b32a37" stroke-width="1" stroke-linecap="round"/>
<path d="M493 147Q491 136 492.5 128" fill="none" stroke="#b32a37" stroke-width="1" stroke-linecap="round"/>
<path d="M533.6 126Q528 128 522 127.5M527 127.8L524 122" fill="none" stroke="#b32a37" stroke-width="1" stroke-linecap="round"/>
<path d="M531 118Q528 114 526.5 108M529 114L522.5 112.5M527.5 111L530 105.5" fill="none" stroke="#b32a37" stroke-width="1" stroke-linecap="round"/>
<path d="M524.5 133Q521 128 521.5 123" fill="none" stroke="#b32a37" stroke-width="1" stroke-linecap="round"/>
<path d="M493.2 120.9Q488.4 124.8 485.5 119.6Q478.8 120.1 479.3 113.8Q473.6 111 477.9 106.3Q474.5 101.1 481.2 99.8Q481.7 93.7 487.9 95.2Q492.8 90.1 497.2 95.6Q504.4 94.5 504 101.3Q510.1 104.6 506 109.8Q508.2 115.1 502.3 116.7Q500.1 123.2 493.2 120.9Z" fill="#c98a82" stroke="#9a5b58" stroke-width="1.3" stroke-linejoin="round"/>
<circle cx="486.1" cy="109" r="1.2" fill="#bd7c75" opacity="0.5"/><circle cx="492.5" cy="107" r="1.6" fill="#d8a49c" opacity="0.5"/><circle cx="494.3" cy="105.9" r="1.7" fill="#bd7c75" opacity="0.5"/><circle cx="490.5" cy="106.2" r="1.5" fill="#d8a49c" opacity="0.5"/><circle cx="490.1" cy="101.2" r="1.9" fill="#bd7c75" opacity="0.5"/><circle cx="494.7" cy="111.7" r="1.1" fill="#d8a49c" opacity="0.5"/><circle cx="482.4" cy="107.2" r="1.7" fill="#bd7c75" opacity="0.5"/><circle cx="492.9" cy="101.5" r="1.9" fill="#d8a49c" opacity="0.5"/><circle cx="496.3" cy="110.8" r="1.8" fill="#bd7c75" opacity="0.5"/><circle cx="491" cy="101.2" r="1.1" fill="#d8a49c" opacity="0.5"/><circle cx="491.5" cy="112.2" r="1.3" fill="#bd7c75" opacity="0.5"/><circle cx="493.6" cy="103.4" r="2.1" fill="#d8a49c" opacity="0.5"/><circle cx="493.7" cy="106" r="1.5" fill="#bd7c75" opacity="0.5"/><circle cx="490.5" cy="107.7" r="1.5" fill="#d8a49c" opacity="0.5"/>
</g>
<g id="vessel">
<g clip-path="url(#vclip)"><g mask="url(#shm)"><path d="M130 599C135.7 601.9 152.6 610 163.9 616.2C175.2 622.4 186.5 629 197.8 636.1C209.1 643.2 220.5 650.8 231.8 658.6C243.1 666.4 254.4 674.6 265.7 683.1C277 691.6 288.3 700.4 299.6 709.4C310.9 718.4 322.2 727.7 333.5 737.2C344.8 746.7 356.1 756.4 367.4 766.2C378.7 776 390 786 401.3 796.2C412.6 806.4 423.9 816.8 435.2 827.3C446.5 837.8 457.9 848.5 469.2 859.3C480.5 870.1 491.8 881.1 503.1 892.3C514.4 903.5 531.4 920.9 537 926.6L444.5 926.6C440.1 921.1 427 904.2 418.3 893.7C409.6 883.2 400.8 873.3 392.1 863.7C383.4 854.1 374.6 845.1 365.9 836.2C357.2 827.3 348.4 818.7 339.7 810.2C331 801.8 322.2 793.6 313.5 785.5C304.8 777.4 295.9 769.4 287.2 761.6C278.4 753.8 269.7 746 261 738.5C252.3 731 243.5 723.5 234.8 716.3C226.1 709.1 217.3 701.9 208.6 695.1C199.9 688.3 191.1 681.7 182.4 675.5C173.7 669.3 164.9 663.2 156.2 658C147.5 652.8 134.4 646.3 130 644Z" transform="translate(-8 10)" fill="#000" opacity="0.5" filter="url(#blur6)"/></g></g>
<clipPath id="lumc"><path d="M199.8 551C204.8 552 216.6 554.2 230 556.8C243.4 559.4 262 563.1 280 566.5C298 569.9 318 573.1 338 577C358 580.9 382 586.1 400 590C418 593.9 429.3 596.6 446 600.3C462.7 604 477.7 607 500 612.3C522.3 617.6 556.7 626.4 580 632.2C603.3 638 623.3 642.9 640 647C656.7 651.1 666.7 653.3 680 656.6C693.3 659.9 700 661.6 720 667C740 672.4 780 683.5 800 689C820 694.5 826.7 696.4 840 700C853.3 703.6 870 707.9 880 710.6C890 713.3 890 713.5 900 716.2C910 718.9 927.9 723.5 940 726.6C952.1 729.7 967 733.6 972.4 735L972.4 926.6L583.4 926.6C577.1 920.2 558.2 900.4 545.6 888.4C533 876.4 520.4 865.5 507.8 854.7C495.2 844 482.6 833.9 470 823.9C457.4 813.9 444.9 804.4 432.3 794.8C419.7 785.2 407.1 775.8 394.5 766.4C381.9 757 369.3 747.6 356.7 738.2C344.1 728.8 331.5 719.4 318.9 710.1C306.3 700.8 293.7 691.4 281.1 682.2C268.5 673.1 255.9 663.9 243.3 655.2C230.7 646.5 218.2 637.9 205.6 630C193 622.1 180.4 614.8 167.8 608.1C155.2 601.4 136.3 593 130 590Z"/></clipPath><path d="M199.8 551C204.8 552 216.6 554.2 230 556.8C243.4 559.4 262 563.1 280 566.5C298 569.9 318 573.1 338 577C358 580.9 382 586.1 400 590C418 593.9 429.3 596.6 446 600.3C462.7 604 477.7 607 500 612.3C522.3 617.6 556.7 626.4 580 632.2C603.3 638 623.3 642.9 640 647C656.7 651.1 666.7 653.3 680 656.6C693.3 659.9 700 661.6 720 667C740 672.4 780 683.5 800 689C820 694.5 826.7 696.4 840 700C853.3 703.6 870 707.9 880 710.6C890 713.3 890 713.5 900 716.2C910 718.9 927.9 723.5 940 726.6C952.1 729.7 967 733.6 972.4 735L972.4 926.6L583.4 926.6C577.1 920.2 558.2 900.4 545.6 888.4C533 876.4 520.4 865.5 507.8 854.7C495.2 844 482.6 833.9 470 823.9C457.4 813.9 444.9 804.4 432.3 794.8C419.7 785.2 407.1 775.8 394.5 766.4C381.9 757 369.3 747.6 356.7 738.2C344.1 728.8 331.5 719.4 318.9 710.1C306.3 700.8 293.7 691.4 281.1 682.2C268.5 673.1 255.9 663.9 243.3 655.2C230.7 646.5 218.2 637.9 205.6 630C193 622.1 180.4 614.8 167.8 608.1C155.2 601.4 136.3 593 130 590Z" fill="#f6efdc"/>
<g clip-path="url(#lumc)" fill="none" stroke="#fdfbf3" stroke-width="3" opacity="0.45"><path d="M788 684Q794 722 806 760T830 840T848 900"/><path d="M672 655Q670 700 674 760T682 830"/><path d="M800 689Q802 720 806 760"/></g>
<path d="M230 556.8C238.3 558.4 262 563.1 280 566.5C298 569.9 318 573.1 338 577C358 580.9 382 586.1 400 590C418 593.9 429.3 596.6 446 600.3C462.7 604 477.7 607 500 612.3C522.3 617.6 556.7 626.4 580 632.2C603.3 638 623.3 642.9 640 647C656.7 651.1 666.7 653.3 680 656.6C693.3 659.9 700 661.6 720 667C740 672.4 780 683.5 800 689C820 694.5 826.7 696.4 840 700C853.3 703.6 870 707.9 880 710.6C890 713.3 890 713.5 900 716.2C910 718.9 927.9 723.5 940 726.6C952.1 729.7 967 733.6 972.4 735" fill="none" stroke="#dd7a2c" stroke-width="4"/>
<path d="M199.6 550.6L231 554.6L231 558.8Z" fill="#dd7a2c"/>
<g clip-path="url(#vclip)">
<g transform="translate(200 569) rotate(36)"><ellipse rx="13" ry="6.5" fill="#cb5865"/><g transform="scale(13 6.5) rotate(-6)"><path d="M0.1 -0.87C0.42 -0.84 0.7 -0.64 0.84 -0.36C0.66 -0.58 0.42 -0.76 0.1 -0.87Z" fill="#ea8794" stroke="#ea8794" stroke-width="0.03" stroke-linejoin="round" opacity="0.7" transform="rotate(35)"/><path d="M-0.38 -0.43C-0.67 -0.19 -0.65 0.2 -0.37 0.43C-0.56 0.19 -0.56 -0.15 -0.38 -0.43Z" fill="#ea8794" stroke="#ea8794" stroke-width="0.04" stroke-linejoin="round" transform="rotate(-12)"/></g><g transform="scale(9.8 7) rotate(19)"><path d="M-0.26 -0.5C0.14 -0.7 0.57 -0.44 0.57 -0.05C0.57 0.26 0.4 0.5 0.12 0.55C0.2 0.38 0.18 0.18 0.08 -0.02C0 -0.2 -0.1 -0.36 -0.26 -0.5Z" fill="#a63a49"/></g><ellipse rx="13" ry="6.5" fill="none" stroke="#b23a4a" stroke-width="1.5"/></g>
<g transform="translate(170 589) rotate(0)"><ellipse rx="9" ry="8" fill="#cb5865"/><g transform="scale(9 8) rotate(0)"><path d="M0.1 -0.87C0.42 -0.84 0.7 -0.64 0.84 -0.36C0.66 -0.58 0.42 -0.76 0.1 -0.87Z" fill="#ea8794" stroke="#ea8794" stroke-width="0.03" stroke-linejoin="round" opacity="0.7" transform="rotate(35)"/><path d="M-0.38 -0.43C-0.67 -0.19 -0.65 0.2 -0.37 0.43C-0.56 0.19 -0.56 -0.15 -0.38 -0.43Z" fill="#ea8794" stroke="#ea8794" stroke-width="0.04" stroke-linejoin="round" transform="rotate(-12)"/></g><g transform="scale(7.9 7.4) rotate(25)"><path d="M-0.26 -0.5C0.14 -0.7 0.57 -0.44 0.57 -0.05C0.57 0.26 0.4 0.5 0.12 0.55C0.2 0.38 0.18 0.18 0.08 -0.02C0 -0.2 -0.1 -0.36 -0.26 -0.5Z" fill="#a63a49"/></g><ellipse rx="9" ry="8" fill="none" stroke="#b23a4a" stroke-width="1.5"/></g>
<g transform="translate(167.6 605) rotate(-30)"><ellipse rx="8" ry="5.5" fill="#cb5865"/><g transform="scale(8 5.5) rotate(30)"><path d="M0.1 -0.87C0.42 -0.84 0.7 -0.64 0.84 -0.36C0.66 -0.58 0.42 -0.76 0.1 -0.87Z" fill="#ea8794" stroke="#ea8794" stroke-width="0.03" stroke-linejoin="round" opacity="0.7" transform="rotate(35)"/><path d="M-0.38 -0.43C-0.67 -0.19 -0.65 0.2 -0.37 0.43C-0.56 0.19 -0.56 -0.15 -0.38 -0.43Z" fill="#ea8794" stroke="#ea8794" stroke-width="0.04" stroke-linejoin="round" transform="rotate(-12)"/></g><g transform="scale(6.6 5.4) rotate(55)"><path d="M-0.26 -0.5C0.14 -0.7 0.57 -0.44 0.57 -0.05C0.57 0.26 0.4 0.5 0.12 0.55C0.2 0.38 0.18 0.18 0.08 -0.02C0 -0.2 -0.1 -0.36 -0.26 -0.5Z" fill="#a63a49"/></g><ellipse rx="8" ry="5.5" fill="none" stroke="#b23a4a" stroke-width="1.5"/></g>
<g transform="translate(289 636) rotate(0)"><ellipse rx="17" ry="13" fill="#cb5865"/><g transform="scale(17 13) rotate(0)"><path d="M0.1 -0.87C0.42 -0.84 0.7 -0.64 0.84 -0.36C0.66 -0.58 0.42 -0.76 0.1 -0.87Z" fill="#ea8794" stroke="#ea8794" stroke-width="0.03" stroke-linejoin="round" opacity="0.7" transform="rotate(35)"/><path d="M-0.38 -0.43C-0.67 -0.19 -0.65 0.2 -0.37 0.43C-0.56 0.19 -0.56 -0.15 -0.38 -0.43Z" fill="#ea8794" stroke="#ea8794" stroke-width="0.04" stroke-linejoin="round" transform="rotate(-12)"/></g><g transform="scale(14.3 12.5) rotate(25)"><path d="M-0.26 -0.5C0.14 -0.7 0.57 -0.44 0.57 -0.05C0.57 0.26 0.4 0.5 0.12 0.55C0.2 0.38 0.18 0.18 0.08 -0.02C0 -0.2 -0.1 -0.36 -0.26 -0.5Z" fill="#a63a49"/></g><ellipse rx="17" ry="13" fill="none" stroke="#b23a4a" stroke-width="1.5"/></g>
<g transform="translate(350 610.5) rotate(25)"><ellipse rx="14" ry="7" fill="#cb5865"/><g transform="scale(14 7) rotate(-25)"><path d="M0.1 -0.87C0.42 -0.84 0.7 -0.64 0.84 -0.36C0.66 -0.58 0.42 -0.76 0.1 -0.87Z" fill="#ea8794" stroke="#ea8794" stroke-width="0.03" stroke-linejoin="round" opacity="0.7" transform="rotate(35)"/><path d="M-0.38 -0.43C-0.67 -0.19 -0.65 0.2 -0.37 0.43C-0.56 0.19 -0.56 -0.15 -0.38 -0.43Z" fill="#ea8794" stroke="#ea8794" stroke-width="0.04" stroke-linejoin="round" transform="rotate(-12)"/></g><g transform="scale(10.6 7.5) rotate(0)"><path d="M-0.26 -0.5C0.14 -0.7 0.57 -0.44 0.57 -0.05C0.57 0.26 0.4 0.5 0.12 0.55C0.2 0.38 0.18 0.18 0.08 -0.02C0 -0.2 -0.1 -0.36 -0.26 -0.5Z" fill="#a63a49"/></g><ellipse rx="14" ry="7" fill="none" stroke="#b23a4a" stroke-width="1.5"/></g>
<g transform="translate(431 666.4) rotate(8)"><ellipse rx="31" ry="18.5" fill="#cb5865"/><g transform="scale(31 18.5) rotate(-28)"><path d="M0.1 -0.87C0.42 -0.84 0.7 -0.64 0.84 -0.36C0.66 -0.58 0.42 -0.76 0.1 -0.87Z" fill="#ea8794" stroke="#ea8794" stroke-width="0.03" stroke-linejoin="round" opacity="0.7" transform="rotate(35)"/><path d="M-0.38 -0.43C-0.67 -0.19 -0.65 0.2 -0.37 0.43C-0.56 0.19 -0.56 -0.15 -0.38 -0.43Z" fill="#ea8794" stroke="#ea8794" stroke-width="0.04" stroke-linejoin="round" transform="rotate(-12)"/></g><g transform="scale(24.5 18.9) rotate(-3)"><path d="M-0.26 -0.5C0.14 -0.7 0.57 -0.44 0.57 -0.05C0.57 0.26 0.4 0.5 0.12 0.55C0.2 0.38 0.18 0.18 0.08 -0.02C0 -0.2 -0.1 -0.36 -0.26 -0.5Z" fill="#a63a49"/></g><ellipse rx="31" ry="18.5" fill="none" stroke="#b23a4a" stroke-width="1.5"/></g>
<g transform="translate(502 727) rotate(-40)"><ellipse rx="20" ry="12" fill="#cb5865"/><g transform="scale(20 12) rotate(150)"><path d="M0.1 -0.87C0.42 -0.84 0.7 -0.64 0.84 -0.36C0.66 -0.58 0.42 -0.76 0.1 -0.87Z" fill="#ea8794" stroke="#ea8794" stroke-width="0.03" stroke-linejoin="round" opacity="0.7" transform="rotate(35)"/><path d="M-0.38 -0.43C-0.67 -0.19 -0.65 0.2 -0.37 0.43C-0.56 0.19 -0.56 -0.15 -0.38 -0.43Z" fill="#ea8794" stroke="#ea8794" stroke-width="0.04" stroke-linejoin="round" transform="rotate(-12)"/></g><g transform="scale(15.8 12.3) rotate(175)"><path d="M-0.26 -0.5C0.14 -0.7 0.57 -0.44 0.57 -0.05C0.57 0.26 0.4 0.5 0.12 0.55C0.2 0.38 0.18 0.18 0.08 -0.02C0 -0.2 -0.1 -0.36 -0.26 -0.5Z" fill="#a63a49"/></g><ellipse rx="20" ry="12" fill="none" stroke="#b23a4a" stroke-width="1.5"/></g>
<g transform="translate(544 675) rotate(0)"><ellipse rx="26" ry="19" fill="#cb5865"/><g transform="scale(26 19) rotate(0)"><path d="M0.1 -0.87C0.42 -0.84 0.7 -0.64 0.84 -0.36C0.66 -0.58 0.42 -0.76 0.1 -0.87Z" fill="#ea8794" stroke="#ea8794" stroke-width="0.03" stroke-linejoin="round" opacity="0.7" transform="rotate(35)"/><path d="M-0.38 -0.43C-0.67 -0.19 -0.65 0.2 -0.37 0.43C-0.56 0.19 -0.56 -0.15 -0.38 -0.43Z" fill="#ea8794" stroke="#ea8794" stroke-width="0.04" stroke-linejoin="round" transform="rotate(-12)"/></g><g transform="scale(21.6 18.5) rotate(25)"><path d="M-0.26 -0.5C0.14 -0.7 0.57 -0.44 0.57 -0.05C0.57 0.26 0.4 0.5 0.12 0.55C0.2 0.38 0.18 0.18 0.08 -0.02C0 -0.2 -0.1 -0.36 -0.26 -0.5Z" fill="#a63a49"/></g><ellipse rx="26" ry="19" fill="none" stroke="#b23a4a" stroke-width="1.5"/></g>
<g transform="translate(555 718) rotate(-10)"><ellipse rx="31" ry="23" fill="#cb5865"/><g transform="scale(31 23) rotate(-70)"><path d="M0.1 -0.87C0.42 -0.84 0.7 -0.64 0.84 -0.36C0.66 -0.58 0.42 -0.76 0.1 -0.87Z" fill="#ea8794" stroke="#ea8794" stroke-width="0.03" stroke-linejoin="round" opacity="0.7" transform="rotate(35)"/><path d="M-0.38 -0.43C-0.67 -0.19 -0.65 0.2 -0.37 0.43C-0.56 0.19 -0.56 -0.15 -0.38 -0.43Z" fill="#ea8794" stroke="#ea8794" stroke-width="0.04" stroke-linejoin="round" transform="rotate(-12)"/></g><g transform="scale(25.9 22.3) rotate(-45)"><path d="M-0.26 -0.5C0.14 -0.7 0.57 -0.44 0.57 -0.05C0.57 0.26 0.4 0.5 0.12 0.55C0.2 0.38 0.18 0.18 0.08 -0.02C0 -0.2 -0.1 -0.36 -0.26 -0.5Z" fill="#a63a49"/></g><ellipse rx="31" ry="23" fill="none" stroke="#b23a4a" stroke-width="1.5"/></g>
<g transform="translate(697 810) rotate(15)"><ellipse rx="28" ry="19" fill="#cb5865"/><g transform="scale(28 19) rotate(-15)"><path d="M0.1 -0.87C0.42 -0.84 0.7 -0.64 0.84 -0.36C0.66 -0.58 0.42 -0.76 0.1 -0.87Z" fill="#ea8794" stroke="#ea8794" stroke-width="0.03" stroke-linejoin="round" opacity="0.7" transform="rotate(35)"/><path d="M-0.38 -0.43C-0.67 -0.19 -0.65 0.2 -0.37 0.43C-0.56 0.19 -0.56 -0.15 -0.38 -0.43Z" fill="#ea8794" stroke="#ea8794" stroke-width="0.04" stroke-linejoin="round" transform="rotate(-12)"/></g><g transform="scale(22.9 18.8) rotate(10)"><path d="M-0.26 -0.5C0.14 -0.7 0.57 -0.44 0.57 -0.05C0.57 0.26 0.4 0.5 0.12 0.55C0.2 0.38 0.18 0.18 0.08 -0.02C0 -0.2 -0.1 -0.36 -0.26 -0.5Z" fill="#a63a49"/></g><ellipse rx="28" ry="19" fill="none" stroke="#b23a4a" stroke-width="1.5"/></g>
<g transform="translate(946 814.5) rotate(0)"><ellipse rx="35" ry="24" fill="#cb5865"/><g transform="scale(35 24) rotate(-30)"><path d="M0.1 -0.87C0.42 -0.84 0.7 -0.64 0.84 -0.36C0.66 -0.58 0.42 -0.76 0.1 -0.87Z" fill="#ea8794" stroke="#ea8794" stroke-width="0.03" stroke-linejoin="round" opacity="0.7" transform="rotate(35)"/><path d="M-0.38 -0.43C-0.67 -0.19 -0.65 0.2 -0.37 0.43C-0.56 0.19 -0.56 -0.15 -0.38 -0.43Z" fill="#ea8794" stroke="#ea8794" stroke-width="0.04" stroke-linejoin="round" transform="rotate(-12)"/></g><g transform="scale(28.7 23.7) rotate(-5)"><path d="M-0.26 -0.5C0.14 -0.7 0.57 -0.44 0.57 -0.05C0.57 0.26 0.4 0.5 0.12 0.55C0.2 0.38 0.18 0.18 0.08 -0.02C0 -0.2 -0.1 -0.36 -0.26 -0.5Z" fill="#a63a49"/></g><ellipse rx="35" ry="24" fill="none" stroke="#b23a4a" stroke-width="1.5"/></g>
<g transform="translate(866 881) rotate(0)"><ellipse rx="35" ry="28" fill="#cb5865"/><g transform="scale(35 28) rotate(-90)"><path d="M0.1 -0.87C0.42 -0.84 0.7 -0.64 0.84 -0.36C0.66 -0.58 0.42 -0.76 0.1 -0.87Z" fill="#ea8794" stroke="#ea8794" stroke-width="0.03" stroke-linejoin="round" opacity="0.7" transform="rotate(35)"/><path d="M-0.38 -0.43C-0.67 -0.19 -0.65 0.2 -0.37 0.43C-0.56 0.19 -0.56 -0.15 -0.38 -0.43Z" fill="#ea8794" stroke="#ea8794" stroke-width="0.04" stroke-linejoin="round" transform="rotate(-12)"/></g><g transform="scale(29.8 26.6) rotate(-65)"><path d="M-0.26 -0.5C0.14 -0.7 0.57 -0.44 0.57 -0.05C0.57 0.26 0.4 0.5 0.12 0.55C0.2 0.38 0.18 0.18 0.08 -0.02C0 -0.2 -0.1 -0.36 -0.26 -0.5Z" fill="#a63a49"/></g><ellipse rx="35" ry="28" fill="none" stroke="#b23a4a" stroke-width="1.5"/></g>
<g transform="translate(646 908) rotate(10)"><ellipse rx="39" ry="22" fill="#cb5865"/><g transform="scale(39 22) rotate(-80)"><path d="M0.1 -0.87C0.42 -0.84 0.7 -0.64 0.84 -0.36C0.66 -0.58 0.42 -0.76 0.1 -0.87Z" fill="#ea8794" stroke="#ea8794" stroke-width="0.03" stroke-linejoin="round" opacity="0.7" transform="rotate(35)"/><path d="M-0.38 -0.43C-0.67 -0.19 -0.65 0.2 -0.37 0.43C-0.56 0.19 -0.56 -0.15 -0.38 -0.43Z" fill="#ea8794" stroke="#ea8794" stroke-width="0.04" stroke-linejoin="round" transform="rotate(-12)"/></g><g transform="scale(30.4 22.8) rotate(-55)"><path d="M-0.26 -0.5C0.14 -0.7 0.57 -0.44 0.57 -0.05C0.57 0.26 0.4 0.5 0.12 0.55C0.2 0.38 0.18 0.18 0.08 -0.02C0 -0.2 -0.1 -0.36 -0.26 -0.5Z" fill="#a63a49"/></g><ellipse rx="39" ry="22" fill="none" stroke="#b23a4a" stroke-width="1.5"/></g>
<g transform="translate(464 808) rotate(27)"><ellipse rx="26" ry="15" fill="#cb5865"/><g transform="scale(26 15) rotate(-17)"><path d="M0.1 -0.87C0.42 -0.84 0.7 -0.64 0.84 -0.36C0.66 -0.58 0.42 -0.76 0.1 -0.87Z" fill="#ea8794" stroke="#ea8794" stroke-width="0.03" stroke-linejoin="round" opacity="0.7" transform="rotate(35)"/><path d="M-0.38 -0.43C-0.67 -0.19 -0.65 0.2 -0.37 0.43C-0.56 0.19 -0.56 -0.15 -0.38 -0.43Z" fill="#ea8794" stroke="#ea8794" stroke-width="0.04" stroke-linejoin="round" transform="rotate(-12)"/></g><g transform="scale(20.4 15.5) rotate(8)"><path d="M-0.26 -0.5C0.14 -0.7 0.57 -0.44 0.57 -0.05C0.57 0.26 0.4 0.5 0.12 0.55C0.2 0.38 0.18 0.18 0.08 -0.02C0 -0.2 -0.1 -0.36 -0.26 -0.5Z" fill="#a63a49"/></g><ellipse rx="26" ry="15" fill="none" stroke="#b23a4a" stroke-width="1.5"/></g>
<g transform="translate(230 560) rotate(5)"><ellipse rx="15" ry="9.4" fill="#c53749"/><g transform="scale(15 9.4) rotate(-15)"><path d="M0.1 -0.87C0.42 -0.84 0.7 -0.64 0.84 -0.36C0.66 -0.58 0.42 -0.76 0.1 -0.87Z" fill="#f0707f" stroke="#f0707f" stroke-width="0.03" stroke-linejoin="round" opacity="0.7" transform="rotate(35)"/><path d="M-0.38 -0.43C-0.67 -0.19 -0.65 0.2 -0.37 0.43C-0.56 0.19 -0.56 -0.15 -0.38 -0.43Z" fill="#f0707f" stroke="#f0707f" stroke-width="0.04" stroke-linejoin="round" transform="rotate(-12)"/></g><g transform="scale(12 9.5) rotate(10)"><path d="M-0.26 -0.5C0.14 -0.7 0.57 -0.44 0.57 -0.05C0.57 0.26 0.4 0.5 0.12 0.55C0.2 0.38 0.18 0.18 0.08 -0.02C0 -0.2 -0.1 -0.36 -0.26 -0.5Z" fill="#9a1a2e"/></g><ellipse rx="15" ry="9.4" fill="none" stroke="#a1162c" stroke-width="1.5"/></g>
<g transform="translate(267.6 588) rotate(30)"><ellipse rx="19.5" ry="17" fill="#c53749"/><g transform="scale(19.5 17) rotate(-30)"><path d="M0.1 -0.87C0.42 -0.84 0.7 -0.64 0.84 -0.36C0.66 -0.58 0.42 -0.76 0.1 -0.87Z" fill="#f0707f" stroke="#f0707f" stroke-width="0.03" stroke-linejoin="round" opacity="0.7" transform="rotate(35)"/><path d="M-0.38 -0.43C-0.67 -0.19 -0.65 0.2 -0.37 0.43C-0.56 0.19 -0.56 -0.15 -0.38 -0.43Z" fill="#f0707f" stroke="#f0707f" stroke-width="0.04" stroke-linejoin="round" transform="rotate(-12)"/></g><g transform="scale(17 15.8) rotate(-5)"><path d="M-0.26 -0.5C0.14 -0.7 0.57 -0.44 0.57 -0.05C0.57 0.26 0.4 0.5 0.12 0.55C0.2 0.38 0.18 0.18 0.08 -0.02C0 -0.2 -0.1 -0.36 -0.26 -0.5Z" fill="#9a1a2e"/></g><ellipse rx="19.5" ry="17" fill="none" stroke="#a1162c" stroke-width="1.5"/></g>
<g transform="translate(191 595) rotate(5)"><ellipse rx="17" ry="11" fill="#c53749"/><g transform="scale(17 11) rotate(-35)"><path d="M0.1 -0.87C0.42 -0.84 0.7 -0.64 0.84 -0.36C0.66 -0.58 0.42 -0.76 0.1 -0.87Z" fill="#f0707f" stroke="#f0707f" stroke-width="0.03" stroke-linejoin="round" opacity="0.7" transform="rotate(35)"/><path d="M-0.38 -0.43C-0.67 -0.19 -0.65 0.2 -0.37 0.43C-0.56 0.19 -0.56 -0.15 -0.38 -0.43Z" fill="#f0707f" stroke="#f0707f" stroke-width="0.04" stroke-linejoin="round" transform="rotate(-12)"/></g><g transform="scale(13.7 11) rotate(-10)"><path d="M-0.26 -0.5C0.14 -0.7 0.57 -0.44 0.57 -0.05C0.57 0.26 0.4 0.5 0.12 0.55C0.2 0.38 0.18 0.18 0.08 -0.02C0 -0.2 -0.1 -0.36 -0.26 -0.5Z" fill="#9a1a2e"/></g><ellipse rx="17" ry="11" fill="none" stroke="#a1162c" stroke-width="1.5"/></g>
<g transform="translate(228.6 602.6) rotate(0)"><ellipse rx="19" ry="13.5" fill="#c53749"/><g transform="scale(19 13.5) rotate(-20)"><path d="M0.1 -0.87C0.42 -0.84 0.7 -0.64 0.84 -0.36C0.66 -0.58 0.42 -0.76 0.1 -0.87Z" fill="#f0707f" stroke="#f0707f" stroke-width="0.03" stroke-linejoin="round" opacity="0.7" transform="rotate(35)"/><path d="M-0.38 -0.43C-0.67 -0.19 -0.65 0.2 -0.37 0.43C-0.56 0.19 -0.56 -0.15 -0.38 -0.43Z" fill="#f0707f" stroke="#f0707f" stroke-width="0.04" stroke-linejoin="round" transform="rotate(-12)"/></g><g transform="scale(15.7 13.2) rotate(5)"><path d="M-0.26 -0.5C0.14 -0.7 0.57 -0.44 0.57 -0.05C0.57 0.26 0.4 0.5 0.12 0.55C0.2 0.38 0.18 0.18 0.08 -0.02C0 -0.2 -0.1 -0.36 -0.26 -0.5Z" fill="#9a1a2e"/></g><ellipse rx="19" ry="13.5" fill="none" stroke="#a1162c" stroke-width="1.5"/></g>
<g transform="translate(201 625) rotate(20)"><ellipse rx="17" ry="10" fill="#c53749"/><g transform="scale(17 10) rotate(-20)"><path d="M0.1 -0.87C0.42 -0.84 0.7 -0.64 0.84 -0.36C0.66 -0.58 0.42 -0.76 0.1 -0.87Z" fill="#f0707f" stroke="#f0707f" stroke-width="0.03" stroke-linejoin="round" opacity="0.7" transform="rotate(35)"/><path d="M-0.38 -0.43C-0.67 -0.19 -0.65 0.2 -0.37 0.43C-0.56 0.19 -0.56 -0.15 -0.38 -0.43Z" fill="#f0707f" stroke="#f0707f" stroke-width="0.04" stroke-linejoin="round" transform="rotate(-12)"/></g><g transform="scale(13.4 10.3) rotate(5)"><path d="M-0.26 -0.5C0.14 -0.7 0.57 -0.44 0.57 -0.05C0.57 0.26 0.4 0.5 0.12 0.55C0.2 0.38 0.18 0.18 0.08 -0.02C0 -0.2 -0.1 -0.36 -0.26 -0.5Z" fill="#9a1a2e"/></g><ellipse rx="17" ry="10" fill="none" stroke="#a1162c" stroke-width="1.5"/></g>
<g transform="translate(256 642) rotate(30)"><ellipse rx="16.5" ry="15" fill="#c53749"/><g transform="scale(16.5 15) rotate(-10)"><path d="M0.1 -0.87C0.42 -0.84 0.7 -0.64 0.84 -0.36C0.66 -0.58 0.42 -0.76 0.1 -0.87Z" fill="#f0707f" stroke="#f0707f" stroke-width="0.03" stroke-linejoin="round" opacity="0.7" transform="rotate(35)"/><path d="M-0.38 -0.43C-0.67 -0.19 -0.65 0.2 -0.37 0.43C-0.56 0.19 -0.56 -0.15 -0.38 -0.43Z" fill="#f0707f" stroke="#f0707f" stroke-width="0.04" stroke-linejoin="round" transform="rotate(-12)"/></g><g transform="scale(14.5 13.8) rotate(15)"><path d="M-0.26 -0.5C0.14 -0.7 0.57 -0.44 0.57 -0.05C0.57 0.26 0.4 0.5 0.12 0.55C0.2 0.38 0.18 0.18 0.08 -0.02C0 -0.2 -0.1 -0.36 -0.26 -0.5Z" fill="#9a1a2e"/></g><ellipse rx="16.5" ry="15" fill="none" stroke="#a1162c" stroke-width="1.5"/></g>
<g transform="translate(317 651.5) rotate(0)"><ellipse rx="28" ry="24.5" fill="#c53749"/><g transform="scale(28 24.5) rotate(-130)"><path d="M0.1 -0.87C0.42 -0.84 0.7 -0.64 0.84 -0.36C0.66 -0.58 0.42 -0.76 0.1 -0.87Z" fill="#f0707f" stroke="#f0707f" stroke-width="0.03" stroke-linejoin="round" opacity="0.7" transform="rotate(35)"/><path d="M-0.38 -0.43C-0.67 -0.19 -0.65 0.2 -0.37 0.43C-0.56 0.19 -0.56 -0.15 -0.38 -0.43Z" fill="#f0707f" stroke="#f0707f" stroke-width="0.04" stroke-linejoin="round" transform="rotate(-12)"/></g><g transform="scale(24.4 22.8) rotate(-105)"><path d="M-0.26 -0.5C0.14 -0.7 0.57 -0.44 0.57 -0.05C0.57 0.26 0.4 0.5 0.12 0.55C0.2 0.38 0.18 0.18 0.08 -0.02C0 -0.2 -0.1 -0.36 -0.26 -0.5Z" fill="#9a1a2e"/></g><ellipse rx="28" ry="24.5" fill="none" stroke="#a1162c" stroke-width="1.5"/></g>
<g transform="translate(319.4 575) rotate(10)"><ellipse rx="18" ry="12" fill="#c53749"/><g transform="scale(18 12) rotate(170)"><path d="M0.1 -0.87C0.42 -0.84 0.7 -0.64 0.84 -0.36C0.66 -0.58 0.42 -0.76 0.1 -0.87Z" fill="#f0707f" stroke="#f0707f" stroke-width="0.03" stroke-linejoin="round" opacity="0.7" transform="rotate(35)"/><path d="M-0.38 -0.43C-0.67 -0.19 -0.65 0.2 -0.37 0.43C-0.56 0.19 -0.56 -0.15 -0.38 -0.43Z" fill="#f0707f" stroke="#f0707f" stroke-width="0.04" stroke-linejoin="round" transform="rotate(-12)"/></g><g transform="scale(14.6 12) rotate(195)"><path d="M-0.26 -0.5C0.14 -0.7 0.57 -0.44 0.57 -0.05C0.57 0.26 0.4 0.5 0.12 0.55C0.2 0.38 0.18 0.18 0.08 -0.02C0 -0.2 -0.1 -0.36 -0.26 -0.5Z" fill="#9a1a2e"/></g><ellipse rx="18" ry="12" fill="none" stroke="#a1162c" stroke-width="1.5"/></g>
<g transform="translate(318 611) rotate(5)"><ellipse rx="21.5" ry="13.5" fill="#c53749"/><g transform="scale(21.5 13.5) rotate(-15)"><path d="M0.1 -0.87C0.42 -0.84 0.7 -0.64 0.84 -0.36C0.66 -0.58 0.42 -0.76 0.1 -0.87Z" fill="#f0707f" stroke="#f0707f" stroke-width="0.03" stroke-linejoin="round" opacity="0.7" transform="rotate(35)"/><path d="M-0.38 -0.43C-0.67 -0.19 -0.65 0.2 -0.37 0.43C-0.56 0.19 -0.56 -0.15 -0.38 -0.43Z" fill="#f0707f" stroke="#f0707f" stroke-width="0.04" stroke-linejoin="round" transform="rotate(-12)"/></g><g transform="scale(17.2 13.6) rotate(10)"><path d="M-0.26 -0.5C0.14 -0.7 0.57 -0.44 0.57 -0.05C0.57 0.26 0.4 0.5 0.12 0.55C0.2 0.38 0.18 0.18 0.08 -0.02C0 -0.2 -0.1 -0.36 -0.26 -0.5Z" fill="#9a1a2e"/></g><ellipse rx="21.5" ry="13.5" fill="none" stroke="#a1162c" stroke-width="1.5"/></g>
<g transform="translate(384 630) rotate(10)"><ellipse rx="30" ry="21" fill="#c53749"/><g transform="scale(30 21) rotate(-55)"><path d="M0.1 -0.87C0.42 -0.84 0.7 -0.64 0.84 -0.36C0.66 -0.58 0.42 -0.76 0.1 -0.87Z" fill="#f0707f" stroke="#f0707f" stroke-width="0.03" stroke-linejoin="round" opacity="0.7" transform="rotate(35)"/><path d="M-0.38 -0.43C-0.67 -0.19 -0.65 0.2 -0.37 0.43C-0.56 0.19 -0.56 -0.15 -0.38 -0.43Z" fill="#f0707f" stroke="#f0707f" stroke-width="0.04" stroke-linejoin="round" transform="rotate(-12)"/></g><g transform="scale(24.7 20.7) rotate(-30)"><path d="M-0.26 -0.5C0.14 -0.7 0.57 -0.44 0.57 -0.05C0.57 0.26 0.4 0.5 0.12 0.55C0.2 0.38 0.18 0.18 0.08 -0.02C0 -0.2 -0.1 -0.36 -0.26 -0.5Z" fill="#9a1a2e"/></g><ellipse rx="30" ry="21" fill="none" stroke="#a1162c" stroke-width="1.5"/></g>
<g transform="translate(418 610) rotate(20)"><ellipse rx="28.5" ry="24" fill="#c53749"/><g transform="scale(28.5 24) rotate(-155)"><path d="M0.1 -0.87C0.42 -0.84 0.7 -0.64 0.84 -0.36C0.66 -0.58 0.42 -0.76 0.1 -0.87Z" fill="#f0707f" stroke="#f0707f" stroke-width="0.03" stroke-linejoin="round" opacity="0.7" transform="rotate(35)"/><path d="M-0.38 -0.43C-0.67 -0.19 -0.65 0.2 -0.37 0.43C-0.56 0.19 -0.56 -0.15 -0.38 -0.43Z" fill="#f0707f" stroke="#f0707f" stroke-width="0.04" stroke-linejoin="round" transform="rotate(-12)"/></g><g transform="scale(24.6 22.5) rotate(-130)"><path d="M-0.26 -0.5C0.14 -0.7 0.57 -0.44 0.57 -0.05C0.57 0.26 0.4 0.5 0.12 0.55C0.2 0.38 0.18 0.18 0.08 -0.02C0 -0.2 -0.1 -0.36 -0.26 -0.5Z" fill="#9a1a2e"/></g><ellipse rx="28.5" ry="24" fill="none" stroke="#a1162c" stroke-width="1.5"/></g>
<g transform="translate(463.7 640.8) rotate(54)"><ellipse rx="19.5" ry="12" fill="#c53749"/><g transform="scale(19.5 12) rotate(146)"><path d="M0.1 -0.87C0.42 -0.84 0.7 -0.64 0.84 -0.36C0.66 -0.58 0.42 -0.76 0.1 -0.87Z" fill="#f0707f" stroke="#f0707f" stroke-width="0.03" stroke-linejoin="round" opacity="0.7" transform="rotate(35)"/><path d="M-0.38 -0.43C-0.67 -0.19 -0.65 0.2 -0.37 0.43C-0.56 0.19 -0.56 -0.15 -0.38 -0.43Z" fill="#f0707f" stroke="#f0707f" stroke-width="0.04" stroke-linejoin="round" transform="rotate(-12)"/></g><g transform="scale(15.5 12.2) rotate(171)"><path d="M-0.26 -0.5C0.14 -0.7 0.57 -0.44 0.57 -0.05C0.57 0.26 0.4 0.5 0.12 0.55C0.2 0.38 0.18 0.18 0.08 -0.02C0 -0.2 -0.1 -0.36 -0.26 -0.5Z" fill="#9a1a2e"/></g><ellipse rx="19.5" ry="12" fill="none" stroke="#a1162c" stroke-width="1.5"/></g>
<g transform="translate(387 677) rotate(15)"><ellipse rx="27" ry="20" fill="#c53749"/><g transform="scale(27 20) rotate(-15)"><path d="M0.1 -0.87C0.42 -0.84 0.7 -0.64 0.84 -0.36C0.66 -0.58 0.42 -0.76 0.1 -0.87Z" fill="#f0707f" stroke="#f0707f" stroke-width="0.03" stroke-linejoin="round" opacity="0.7" transform="rotate(35)"/><path d="M-0.38 -0.43C-0.67 -0.19 -0.65 0.2 -0.37 0.43C-0.56 0.19 -0.56 -0.15 -0.38 -0.43Z" fill="#f0707f" stroke="#f0707f" stroke-width="0.04" stroke-linejoin="round" transform="rotate(-12)"/></g><g transform="scale(22.5 19.4) rotate(10)"><path d="M-0.26 -0.5C0.14 -0.7 0.57 -0.44 0.57 -0.05C0.57 0.26 0.4 0.5 0.12 0.55C0.2 0.38 0.18 0.18 0.08 -0.02C0 -0.2 -0.1 -0.36 -0.26 -0.5Z" fill="#9a1a2e"/></g><ellipse rx="27" ry="20" fill="none" stroke="#a1162c" stroke-width="1.5"/></g>
<g transform="translate(334 709.6) rotate(20)"><ellipse rx="27" ry="19" fill="#c53749"/><g transform="scale(27 19) rotate(-10)"><path d="M0.1 -0.87C0.42 -0.84 0.7 -0.64 0.84 -0.36C0.66 -0.58 0.42 -0.76 0.1 -0.87Z" fill="#f0707f" stroke="#f0707f" stroke-width="0.03" stroke-linejoin="round" opacity="0.7" transform="rotate(35)"/><path d="M-0.38 -0.43C-0.67 -0.19 -0.65 0.2 -0.37 0.43C-0.56 0.19 -0.56 -0.15 -0.38 -0.43Z" fill="#f0707f" stroke="#f0707f" stroke-width="0.04" stroke-linejoin="round" transform="rotate(-12)"/></g><g transform="scale(22.3 18.7) rotate(15)"><path d="M-0.26 -0.5C0.14 -0.7 0.57 -0.44 0.57 -0.05C0.57 0.26 0.4 0.5 0.12 0.55C0.2 0.38 0.18 0.18 0.08 -0.02C0 -0.2 -0.1 -0.36 -0.26 -0.5Z" fill="#9a1a2e"/></g><ellipse rx="27" ry="19" fill="none" stroke="#a1162c" stroke-width="1.5"/></g>
<g transform="translate(405.4 719) rotate(18)"><ellipse rx="29" ry="14.5" fill="#c53749"/><g transform="scale(29 14.5) rotate(2)"><path d="M0.1 -0.87C0.42 -0.84 0.7 -0.64 0.84 -0.36C0.66 -0.58 0.42 -0.76 0.1 -0.87Z" fill="#f0707f" stroke="#f0707f" stroke-width="0.03" stroke-linejoin="round" opacity="0.7" transform="rotate(35)"/><path d="M-0.38 -0.43C-0.67 -0.19 -0.65 0.2 -0.37 0.43C-0.56 0.19 -0.56 -0.15 -0.38 -0.43Z" fill="#f0707f" stroke="#f0707f" stroke-width="0.04" stroke-linejoin="round" transform="rotate(-12)"/></g><g transform="scale(21.9 15.5) rotate(27)"><path d="M-0.26 -0.5C0.14 -0.7 0.57 -0.44 0.57 -0.05C0.57 0.26 0.4 0.5 0.12 0.55C0.2 0.38 0.18 0.18 0.08 -0.02C0 -0.2 -0.1 -0.36 -0.26 -0.5Z" fill="#9a1a2e"/></g><ellipse rx="29" ry="14.5" fill="none" stroke="#a1162c" stroke-width="1.5"/></g>
<g transform="translate(484 699) rotate(-5)"><ellipse rx="31" ry="24" fill="#df5a62"/><g transform="scale(31 24) rotate(-75)"><path d="M0.1 -0.87C0.42 -0.84 0.7 -0.64 0.84 -0.36C0.66 -0.58 0.42 -0.76 0.1 -0.87Z" fill="#f7959b" stroke="#f7959b" stroke-width="0.03" stroke-linejoin="round" opacity="0.7" transform="rotate(35)"/><path d="M-0.38 -0.43C-0.67 -0.19 -0.65 0.2 -0.37 0.43C-0.56 0.19 -0.56 -0.15 -0.38 -0.43Z" fill="#f7959b" stroke="#f7959b" stroke-width="0.04" stroke-linejoin="round" transform="rotate(-12)"/></g><g transform="scale(26.2 23) rotate(-50)"><path d="M-0.26 -0.5C0.14 -0.7 0.57 -0.44 0.57 -0.05C0.57 0.26 0.4 0.5 0.12 0.55C0.2 0.38 0.18 0.18 0.08 -0.02C0 -0.2 -0.1 -0.36 -0.26 -0.5Z" fill="#bc2f40"/></g><ellipse rx="31" ry="24" fill="none" stroke="#b52a3a" stroke-width="1.5"/></g>
<g transform="translate(469 755) rotate(8)"><ellipse rx="30" ry="22" fill="#c53749"/><g transform="scale(30 22) rotate(-28)"><path d="M0.1 -0.87C0.42 -0.84 0.7 -0.64 0.84 -0.36C0.66 -0.58 0.42 -0.76 0.1 -0.87Z" fill="#f0707f" stroke="#f0707f" stroke-width="0.03" stroke-linejoin="round" opacity="0.7" transform="rotate(35)"/><path d="M-0.38 -0.43C-0.67 -0.19 -0.65 0.2 -0.37 0.43C-0.56 0.19 -0.56 -0.15 -0.38 -0.43Z" fill="#f0707f" stroke="#f0707f" stroke-width="0.04" stroke-linejoin="round" transform="rotate(-12)"/></g><g transform="scale(25 21.4) rotate(-3)"><path d="M-0.26 -0.5C0.14 -0.7 0.57 -0.44 0.57 -0.05C0.57 0.26 0.4 0.5 0.12 0.55C0.2 0.38 0.18 0.18 0.08 -0.02C0 -0.2 -0.1 -0.36 -0.26 -0.5Z" fill="#9a1a2e"/></g><ellipse rx="30" ry="22" fill="none" stroke="#a1162c" stroke-width="1.5"/></g>
<g transform="translate(400 755) rotate(0)"><ellipse rx="25" ry="19" fill="#c53749"/><g transform="scale(25 19) rotate(80)"><path d="M0.1 -0.87C0.42 -0.84 0.7 -0.64 0.84 -0.36C0.66 -0.58 0.42 -0.76 0.1 -0.87Z" fill="#f0707f" stroke="#f0707f" stroke-width="0.03" stroke-linejoin="round" opacity="0.7" transform="rotate(35)"/><path d="M-0.38 -0.43C-0.67 -0.19 -0.65 0.2 -0.37 0.43C-0.56 0.19 -0.56 -0.15 -0.38 -0.43Z" fill="#f0707f" stroke="#f0707f" stroke-width="0.04" stroke-linejoin="round" transform="rotate(-12)"/></g><g transform="scale(21 18.3) rotate(105)"><path d="M-0.26 -0.5C0.14 -0.7 0.57 -0.44 0.57 -0.05C0.57 0.26 0.4 0.5 0.12 0.55C0.2 0.38 0.18 0.18 0.08 -0.02C0 -0.2 -0.1 -0.36 -0.26 -0.5Z" fill="#9a1a2e"/></g><ellipse rx="25" ry="19" fill="none" stroke="#a1162c" stroke-width="1.5"/></g>
<g transform="translate(585.6 661) rotate(10)"><ellipse rx="30" ry="23" fill="#c53749"/><g transform="scale(30 23) rotate(0)"><path d="M0.1 -0.87C0.42 -0.84 0.7 -0.64 0.84 -0.36C0.66 -0.58 0.42 -0.76 0.1 -0.87Z" fill="#f0707f" stroke="#f0707f" stroke-width="0.03" stroke-linejoin="round" opacity="0.7" transform="rotate(35)"/><path d="M-0.38 -0.43C-0.67 -0.19 -0.65 0.2 -0.37 0.43C-0.56 0.19 -0.56 -0.15 -0.38 -0.43Z" fill="#f0707f" stroke="#f0707f" stroke-width="0.04" stroke-linejoin="round" transform="rotate(-12)"/></g><g transform="scale(25.3 22.1) rotate(25)"><path d="M-0.26 -0.5C0.14 -0.7 0.57 -0.44 0.57 -0.05C0.57 0.26 0.4 0.5 0.12 0.55C0.2 0.38 0.18 0.18 0.08 -0.02C0 -0.2 -0.1 -0.36 -0.26 -0.5Z" fill="#9a1a2e"/></g><ellipse rx="30" ry="23" fill="none" stroke="#a1162c" stroke-width="1.5"/></g>
<g transform="translate(654 703) rotate(37)"><ellipse rx="33.5" ry="17" fill="#ee7379"/><g transform="scale(33.5 17) rotate(143)"><path d="M0.1 -0.87C0.42 -0.84 0.7 -0.64 0.84 -0.36C0.66 -0.58 0.42 -0.76 0.1 -0.87Z" fill="#fbb0b3" stroke="#fbb0b3" stroke-width="0.03" stroke-linejoin="round" opacity="0.7" transform="rotate(35)"/><path d="M-0.38 -0.43C-0.67 -0.19 -0.65 0.2 -0.37 0.43C-0.56 0.19 -0.56 -0.15 -0.38 -0.43Z" fill="#fbb0b3" stroke="#fbb0b3" stroke-width="0.04" stroke-linejoin="round" transform="rotate(-12)"/></g><g transform="scale(25.4 18.1) rotate(168)"><path d="M-0.26 -0.5C0.14 -0.7 0.57 -0.44 0.57 -0.05C0.57 0.26 0.4 0.5 0.12 0.55C0.2 0.38 0.18 0.18 0.08 -0.02C0 -0.2 -0.1 -0.36 -0.26 -0.5Z" fill="#df545c"/></g><ellipse rx="33.5" ry="17" fill="none" stroke="#c9424d" stroke-width="1.5"/></g>
<g transform="translate(588 755) rotate(15)"><ellipse rx="44" ry="27" fill="#c53749"/><g transform="scale(44 27) rotate(-15)"><path d="M0.1 -0.87C0.42 -0.84 0.7 -0.64 0.84 -0.36C0.66 -0.58 0.42 -0.76 0.1 -0.87Z" fill="#f0707f" stroke="#f0707f" stroke-width="0.03" stroke-linejoin="round" opacity="0.7" transform="rotate(35)"/><path d="M-0.38 -0.43C-0.67 -0.19 -0.65 0.2 -0.37 0.43C-0.56 0.19 -0.56 -0.15 -0.38 -0.43Z" fill="#f0707f" stroke="#f0707f" stroke-width="0.04" stroke-linejoin="round" transform="rotate(-12)"/></g><g transform="scale(35 27.5) rotate(10)"><path d="M-0.26 -0.5C0.14 -0.7 0.57 -0.44 0.57 -0.05C0.57 0.26 0.4 0.5 0.12 0.55C0.2 0.38 0.18 0.18 0.08 -0.02C0 -0.2 -0.1 -0.36 -0.26 -0.5Z" fill="#9a1a2e"/></g><ellipse rx="44" ry="27" fill="none" stroke="#a1162c" stroke-width="1.5"/></g>
<g transform="translate(760 694) rotate(25)"><ellipse rx="39" ry="26" fill="#df5a62"/><g transform="scale(39 26) rotate(-25)"><path d="M0.1 -0.87C0.42 -0.84 0.7 -0.64 0.84 -0.36C0.66 -0.58 0.42 -0.76 0.1 -0.87Z" fill="#f7959b" stroke="#f7959b" stroke-width="0.03" stroke-linejoin="round" opacity="0.7" transform="rotate(35)"/><path d="M-0.38 -0.43C-0.67 -0.19 -0.65 0.2 -0.37 0.43C-0.56 0.19 -0.56 -0.15 -0.38 -0.43Z" fill="#f7959b" stroke="#f7959b" stroke-width="0.04" stroke-linejoin="round" transform="rotate(-12)"/></g><g transform="scale(31.7 25.9) rotate(0)"><path d="M-0.26 -0.5C0.14 -0.7 0.57 -0.44 0.57 -0.05C0.57 0.26 0.4 0.5 0.12 0.55C0.2 0.38 0.18 0.18 0.08 -0.02C0 -0.2 -0.1 -0.36 -0.26 -0.5Z" fill="#bc2f40"/></g><ellipse rx="39" ry="26" fill="none" stroke="#b52a3a" stroke-width="1.5"/></g>
<g transform="translate(771 746) rotate(35)"><ellipse rx="32" ry="18" fill="#c53749"/><g transform="scale(32 18) rotate(155)"><path d="M0.1 -0.87C0.42 -0.84 0.7 -0.64 0.84 -0.36C0.66 -0.58 0.42 -0.76 0.1 -0.87Z" fill="#f0707f" stroke="#f0707f" stroke-width="0.03" stroke-linejoin="round" opacity="0.7" transform="rotate(35)"/><path d="M-0.38 -0.43C-0.67 -0.19 -0.65 0.2 -0.37 0.43C-0.56 0.19 -0.56 -0.15 -0.38 -0.43Z" fill="#f0707f" stroke="#f0707f" stroke-width="0.04" stroke-linejoin="round" transform="rotate(-12)"/></g><g transform="scale(24.9 18.7) rotate(180)"><path d="M-0.26 -0.5C0.14 -0.7 0.57 -0.44 0.57 -0.05C0.57 0.26 0.4 0.5 0.12 0.55C0.2 0.38 0.18 0.18 0.08 -0.02C0 -0.2 -0.1 -0.36 -0.26 -0.5Z" fill="#9a1a2e"/></g><ellipse rx="32" ry="18" fill="none" stroke="#a1162c" stroke-width="1.5"/></g>
<g transform="translate(718 769) rotate(-8)"><ellipse rx="48" ry="30" fill="#ee7379"/><g transform="scale(48 30) rotate(-42)"><path d="M0.1 -0.87C0.42 -0.84 0.7 -0.64 0.84 -0.36C0.66 -0.58 0.42 -0.76 0.1 -0.87Z" fill="#fbb0b3" stroke="#fbb0b3" stroke-width="0.03" stroke-linejoin="round" opacity="0.7" transform="rotate(35)"/><path d="M-0.38 -0.43C-0.67 -0.19 -0.65 0.2 -0.37 0.43C-0.56 0.19 -0.56 -0.15 -0.38 -0.43Z" fill="#fbb0b3" stroke="#fbb0b3" stroke-width="0.04" stroke-linejoin="round" transform="rotate(-12)"/></g><g transform="scale(38.4 30.4) rotate(-17)"><path d="M-0.26 -0.5C0.14 -0.7 0.57 -0.44 0.57 -0.05C0.57 0.26 0.4 0.5 0.12 0.55C0.2 0.38 0.18 0.18 0.08 -0.02C0 -0.2 -0.1 -0.36 -0.26 -0.5Z" fill="#df545c"/></g><ellipse rx="48" ry="30" fill="none" stroke="#c9424d" stroke-width="1.5"/></g>
<g transform="translate(909.4 770) rotate(5)"><ellipse rx="53" ry="40" fill="#c53749"/><g transform="scale(53 40) rotate(-55)"><path d="M0.1 -0.87C0.42 -0.84 0.7 -0.64 0.84 -0.36C0.66 -0.58 0.42 -0.76 0.1 -0.87Z" fill="#f0707f" stroke="#f0707f" stroke-width="0.03" stroke-linejoin="round" opacity="0.7" transform="rotate(35)"/><path d="M-0.38 -0.43C-0.67 -0.19 -0.65 0.2 -0.37 0.43C-0.56 0.19 -0.56 -0.15 -0.38 -0.43Z" fill="#f0707f" stroke="#f0707f" stroke-width="0.04" stroke-linejoin="round" transform="rotate(-12)"/></g><g transform="scale(44.5 38.6) rotate(-30)"><path d="M-0.26 -0.5C0.14 -0.7 0.57 -0.44 0.57 -0.05C0.57 0.26 0.4 0.5 0.12 0.55C0.2 0.38 0.18 0.18 0.08 -0.02C0 -0.2 -0.1 -0.36 -0.26 -0.5Z" fill="#9a1a2e"/></g><ellipse rx="53" ry="40" fill="none" stroke="#a1162c" stroke-width="1.5"/></g>
<g transform="translate(758 906) rotate(-12)"><ellipse rx="52" ry="21" fill="#c53749"/><g transform="scale(52 21) rotate(162)"><path d="M0.1 -0.87C0.42 -0.84 0.7 -0.64 0.84 -0.36C0.66 -0.58 0.42 -0.76 0.1 -0.87Z" fill="#f0707f" stroke="#f0707f" stroke-width="0.03" stroke-linejoin="round" opacity="0.7" transform="rotate(35)"/><path d="M-0.38 -0.43C-0.67 -0.19 -0.65 0.2 -0.37 0.43C-0.56 0.19 -0.56 -0.15 -0.38 -0.43Z" fill="#f0707f" stroke="#f0707f" stroke-width="0.04" stroke-linejoin="round" transform="rotate(-12)"/></g><g transform="scale(37.3 23.7) rotate(187)"><path d="M-0.26 -0.5C0.14 -0.7 0.57 -0.44 0.57 -0.05C0.57 0.26 0.4 0.5 0.12 0.55C0.2 0.38 0.18 0.18 0.08 -0.02C0 -0.2 -0.1 -0.36 -0.26 -0.5Z" fill="#9a1a2e"/></g><ellipse rx="52" ry="21" fill="none" stroke="#a1162c" stroke-width="1.5"/></g>
<g transform="translate(781.5 846) rotate(0)"><ellipse rx="50.5" ry="42" fill="#c53749"/><g transform="scale(50.5 42) rotate(-140)"><path d="M0.1 -0.87C0.42 -0.84 0.7 -0.64 0.84 -0.36C0.66 -0.58 0.42 -0.76 0.1 -0.87Z" fill="#f0707f" stroke="#f0707f" stroke-width="0.03" stroke-linejoin="round" opacity="0.7" transform="rotate(35)"/><path d="M-0.38 -0.43C-0.67 -0.19 -0.65 0.2 -0.37 0.43C-0.56 0.19 -0.56 -0.15 -0.38 -0.43Z" fill="#f0707f" stroke="#f0707f" stroke-width="0.04" stroke-linejoin="round" transform="rotate(-12)"/></g><g transform="scale(43.4 39.6) rotate(-115)"><path d="M-0.26 -0.5C0.14 -0.7 0.57 -0.44 0.57 -0.05C0.57 0.26 0.4 0.5 0.12 0.55C0.2 0.38 0.18 0.18 0.08 -0.02C0 -0.2 -0.1 -0.36 -0.26 -0.5Z" fill="#9a1a2e"/></g><ellipse rx="50.5" ry="42" fill="none" stroke="#a1162c" stroke-width="1.5"/></g>
<g transform="translate(675 863) rotate(10)"><ellipse rx="55" ry="35" fill="#c53749"/><g transform="scale(55 35) rotate(150)"><path d="M0.1 -0.87C0.42 -0.84 0.7 -0.64 0.84 -0.36C0.66 -0.58 0.42 -0.76 0.1 -0.87Z" fill="#f0707f" stroke="#f0707f" stroke-width="0.03" stroke-linejoin="round" opacity="0.7" transform="rotate(35)"/><path d="M-0.38 -0.43C-0.67 -0.19 -0.65 0.2 -0.37 0.43C-0.56 0.19 -0.56 -0.15 -0.38 -0.43Z" fill="#f0707f" stroke="#f0707f" stroke-width="0.04" stroke-linejoin="round" transform="rotate(-12)"/></g><g transform="scale(44.2 35.3) rotate(175)"><path d="M-0.26 -0.5C0.14 -0.7 0.57 -0.44 0.57 -0.05C0.57 0.26 0.4 0.5 0.12 0.55C0.2 0.38 0.18 0.18 0.08 -0.02C0 -0.2 -0.1 -0.36 -0.26 -0.5Z" fill="#9a1a2e"/></g><ellipse rx="55" ry="35" fill="none" stroke="#a1162c" stroke-width="1.5"/></g>
<g transform="translate(924 904) rotate(0)"><ellipse rx="62" ry="44" fill="#c53749"/><g transform="scale(62 44) rotate(45)"><path d="M0.1 -0.87C0.42 -0.84 0.7 -0.64 0.84 -0.36C0.66 -0.58 0.42 -0.76 0.1 -0.87Z" fill="#f0707f" stroke="#f0707f" stroke-width="0.03" stroke-linejoin="round" opacity="0.7" transform="rotate(35)"/><path d="M-0.38 -0.43C-0.67 -0.19 -0.65 0.2 -0.37 0.43C-0.56 0.19 -0.56 -0.15 -0.38 -0.43Z" fill="#f0707f" stroke="#f0707f" stroke-width="0.04" stroke-linejoin="round" transform="rotate(-12)"/></g><g transform="scale(51.2 43.1) rotate(70)"><path d="M-0.26 -0.5C0.14 -0.7 0.57 -0.44 0.57 -0.05C0.57 0.26 0.4 0.5 0.12 0.55C0.2 0.38 0.18 0.18 0.08 -0.02C0 -0.2 -0.1 -0.36 -0.26 -0.5Z" fill="#9a1a2e"/></g><ellipse rx="62" ry="44" fill="none" stroke="#a1162c" stroke-width="1.5"/></g>
<g transform="translate(542 862) rotate(0)"><ellipse rx="33" ry="24" fill="#c53749"/><g transform="scale(33 24) rotate(-100)"><path d="M0.1 -0.87C0.42 -0.84 0.7 -0.64 0.84 -0.36C0.66 -0.58 0.42 -0.76 0.1 -0.87Z" fill="#f0707f" stroke="#f0707f" stroke-width="0.03" stroke-linejoin="round" opacity="0.7" transform="rotate(35)"/><path d="M-0.38 -0.43C-0.67 -0.19 -0.65 0.2 -0.37 0.43C-0.56 0.19 -0.56 -0.15 -0.38 -0.43Z" fill="#f0707f" stroke="#f0707f" stroke-width="0.04" stroke-linejoin="round" transform="rotate(-12)"/></g><g transform="scale(27.4 23.4) rotate(-75)"><path d="M-0.26 -0.5C0.14 -0.7 0.57 -0.44 0.57 -0.05C0.57 0.26 0.4 0.5 0.12 0.55C0.2 0.38 0.18 0.18 0.08 -0.02C0 -0.2 -0.1 -0.36 -0.26 -0.5Z" fill="#9a1a2e"/></g><ellipse rx="33" ry="24" fill="none" stroke="#a1162c" stroke-width="1.5"/></g>
<g transform="translate(552 816) rotate(10)"><ellipse rx="40" ry="31" fill="#c53749"/><g transform="scale(40 31) rotate(-10)"><path d="M0.1 -0.87C0.42 -0.84 0.7 -0.64 0.84 -0.36C0.66 -0.58 0.42 -0.76 0.1 -0.87Z" fill="#f0707f" stroke="#f0707f" stroke-width="0.03" stroke-linejoin="round" opacity="0.7" transform="rotate(35)"/><path d="M-0.38 -0.43C-0.67 -0.19 -0.65 0.2 -0.37 0.43C-0.56 0.19 -0.56 -0.15 -0.38 -0.43Z" fill="#f0707f" stroke="#f0707f" stroke-width="0.04" stroke-linejoin="round" transform="rotate(-12)"/></g><g transform="scale(33.8 29.7) rotate(15)"><path d="M-0.26 -0.5C0.14 -0.7 0.57 -0.44 0.57 -0.05C0.57 0.26 0.4 0.5 0.12 0.55C0.2 0.38 0.18 0.18 0.08 -0.02C0 -0.2 -0.1 -0.36 -0.26 -0.5Z" fill="#9a1a2e"/></g><ellipse rx="40" ry="31" fill="none" stroke="#a1162c" stroke-width="1.5"/></g>
</g>
<path d="M130 590C136.3 593 155.2 601.4 167.8 608.1C180.4 614.8 193 622.1 205.6 630C218.2 637.9 230.7 646.5 243.3 655.2C255.9 663.9 268.5 673.1 281.1 682.2C293.7 691.4 306.3 700.8 318.9 710.1C331.5 719.4 344.1 728.8 356.7 738.2C369.3 747.6 381.9 757 394.5 766.4C407.1 775.8 419.7 785.2 432.3 794.8C444.9 804.4 457.4 813.9 470 823.9C482.6 833.9 495.2 844 507.8 854.7C520.4 865.5 533 876.4 545.6 888.4C558.2 900.4 577.1 920.2 583.4 926.6L537 926.6C531.4 920.9 514.4 903.5 503.1 892.3C491.8 881.1 480.5 870.1 469.2 859.3C457.9 848.5 446.5 837.8 435.2 827.3C423.9 816.8 412.6 806.4 401.3 796.2C390 786 378.7 776 367.4 766.2C356.1 756.4 344.8 746.7 333.5 737.2C322.2 727.7 310.9 718.4 299.6 709.4C288.3 700.4 277 691.6 265.7 683.1C254.4 674.6 243.1 666.4 231.8 658.6C220.5 650.8 209.1 643.2 197.8 636.1C186.5 629 175.2 622.4 163.9 616.2C152.6 610 135.7 601.9 130 599Z" fill="#dbae77"/>
<path d="M130 590C136.3 593 155.2 601.4 167.8 608.1C180.4 614.8 193 622.1 205.6 630C218.2 637.9 230.7 646.5 243.3 655.2C255.9 663.9 268.5 673.1 281.1 682.2C293.7 691.4 306.3 700.8 318.9 710.1C331.5 719.4 344.1 728.8 356.7 738.2C369.3 747.6 381.9 757 394.5 766.4C407.1 775.8 419.7 785.2 432.3 794.8C444.9 804.4 457.4 813.9 470 823.9C482.6 833.9 495.2 844 507.8 854.7C520.4 865.5 533 876.4 545.6 888.4C558.2 900.4 577.1 920.2 583.4 926.6" fill="none" stroke="#d98a2a" stroke-width="1.2"/>
<path d="M130 599C135.7 601.9 152.6 610 163.9 616.2C175.2 622.4 186.5 629 197.8 636.1C209.1 643.2 220.5 650.8 231.8 658.6C243.1 666.4 254.4 674.6 265.7 683.1C277 691.6 288.3 700.4 299.6 709.4C310.9 718.4 322.2 727.7 333.5 737.2C344.8 746.7 356.1 756.4 367.4 766.2C378.7 776 390 786 401.3 796.2C412.6 806.4 423.9 816.8 435.2 827.3C446.5 837.8 457.9 848.5 469.2 859.3C480.5 870.1 491.8 881.1 503.1 892.3C514.4 903.5 531.4 920.9 537 926.6L444.5 926.6C440.1 921.1 427 904.2 418.3 893.7C409.6 883.2 400.8 873.3 392.1 863.7C383.4 854.1 374.6 845.1 365.9 836.2C357.2 827.3 348.4 818.7 339.7 810.2C331 801.8 322.2 793.6 313.5 785.5C304.8 777.4 295.9 769.4 287.2 761.6C278.4 753.8 269.7 746 261 738.5C252.3 731 243.5 723.5 234.8 716.3C226.1 709.1 217.3 701.9 208.6 695.1C199.9 688.3 191.1 681.7 182.4 675.5C173.7 669.3 164.9 663.2 156.2 658C147.5 652.8 134.4 646.3 130 644Z" fill="#800000"/>
<path d="M130 599C135.7 601.9 152.6 610 163.9 616.2C175.2 622.4 186.5 629 197.8 636.1C209.1 643.2 220.5 650.8 231.8 658.6C243.1 666.4 254.4 674.6 265.7 683.1C277 691.6 288.3 700.4 299.6 709.4C310.9 718.4 322.2 727.7 333.5 737.2C344.8 746.7 356.1 756.4 367.4 766.2C378.7 776 390 786 401.3 796.2C412.6 806.4 423.9 816.8 435.2 827.3C446.5 837.8 457.9 848.5 469.2 859.3C480.5 870.1 491.8 881.1 503.1 892.3C514.4 903.5 531.4 920.9 537 926.6" fill="none" stroke="#d98a2a" stroke-width="0.9"/>
</g>
<g id="tube">
<path d="M533.6 464V582A13.9 13.9 0 0 0 561.4 582V464Z" fill="#f3f4f5" stroke="#9aa2aa" stroke-width="1.4"/>
<path d="M535.3 470V582" stroke="#d3d9de" stroke-width="2" fill="none"/><path d="M559.7 470V582" stroke="#d3d9de" stroke-width="2" fill="none"/>
<rect x="535.6" y="484.5" width="24.4" height="48.5" fill="#dcb32d"/>
<ellipse cx="547.8" cy="485" rx="12.2" ry="2.6" fill="#e8c756"/>
<rect x="535.6" y="486" width="3.6" height="47" fill="#c9a224" opacity="0.6"/>
<rect x="556.6" y="486" width="3.4" height="47" fill="#e6c24a" opacity="0.6"/>
<rect x="535.6" y="532" width="24.4" height="2.6" fill="#f3e3c3"/>
<path d="M535.6 534.6V582.5A12.2 12.2 0 0 0 560 582.5V534.6Z" fill="#a83a41"/>
<path d="M535.6 534.6V582.5A12.2 12.2 0 0 0 541 592.3V534.6Z" fill="#8f2a33" opacity="0.55"/>
<path d="M556.5 534.6V591Q560 587 560 582.5V534.6Z" fill="#b94a50" opacity="0.6"/>
<path d="M539.6 540V577" stroke="#dc8c92" stroke-width="1.1" fill="none" opacity="0.85" stroke-linecap="round"/>
<path d="M533.6 464V582A13.9 13.9 0 0 0 561.4 582V464" fill="none" stroke="#8f979f" stroke-width="1.3"/>
<path d="M532 437Q532 434.6 533.6 433.6Q534 429.2 540 429H556Q562 429.2 562.4 433.6Q564 434.6 564 437L564.6 462.5H531.4Z" fill="#e8692c"/>
<ellipse cx="548" cy="432.4" rx="13.6" ry="3" fill="#ef7d42"/>
<ellipse cx="548" cy="432.6" rx="10.6" ry="2" fill="#e0621f"/>
<path d="M531.4 462Q548 464.6 564.6 462L565 466Q565 468.6 561 469.4Q548 471.4 535 469.4Q531 468.6 531 466Z" fill="#dd5c1e"/>
<path d="M531.2 462Q548 464.8 564.8 462" fill="none" stroke="#c94e14" stroke-width="0.8"/>
<path d="M535.5 438V461" stroke="#d95c20" stroke-width="0.9" opacity="0.7"/><path d="M538.5 438V461" stroke="#d95c20" stroke-width="0.9" opacity="0.7"/><path d="M541.5 438V461" stroke="#d95c20" stroke-width="0.9" opacity="0.7"/><path d="M544.5 438V461" stroke="#d95c20" stroke-width="0.9" opacity="0.7"/><path d="M547.5 438V461" stroke="#d95c20" stroke-width="0.9" opacity="0.7"/><path d="M550.5 438V461" stroke="#d95c20" stroke-width="0.9" opacity="0.7"/><path d="M553.5 438V461" stroke="#d95c20" stroke-width="0.9" opacity="0.7"/><path d="M556.5 438V461" stroke="#d95c20" stroke-width="0.9" opacity="0.7"/><path d="M559.5 438V461" stroke="#d95c20" stroke-width="0.9" opacity="0.7"/><path d="M562 438V461" stroke="#d95c20" stroke-width="0.9" opacity="0.7"/>
<circle cx="546.2" cy="501.2" r="6.8" fill="none" stroke="#1a1a1a" stroke-width="1.3"/>
<path d="M548 494.3L626 454.6" stroke="#2a2a2a" stroke-width="1.4" stroke-dasharray="2.6 3" fill="none"/>
<path d="M549.4 508L634.5 541.8" stroke="#2a2a2a" stroke-width="1.4" stroke-dasharray="2.6 3" fill="none"/>
</g>
<g id="proteome">
<ellipse cx="669.8" cy="495.9" rx="58.8" ry="57.4" fill="#fbf3dd" stroke="#1a1a1a" stroke-width="1.3"/>
<clipPath id="pc11"><path d="M657.5 503.8L657 504.7L656.1 505.6L656.1 506.5L657.5 507.7L658.5 509L659 510.3L658.9 511.5L658.2 512.6L657.2 513.5L656.2 514.4L656.3 516L656 517.6L655.2 519L654 520.1L652.3 520.7L650.3 520.8L648.3 520.6L647.1 522L645.6 523L643.8 523.3L641.8 522.8L639.9 521.6L638.2 521.7L636.5 522.1L634.8 521.7L633.5 520.3L632.7 518.4L631.2 518.2L629.7 518L628.5 517.3L627.9 516L627.8 514.5L627.2 513.5L625.6 513.4L624 513.1L622.8 512.5L621.8 511.8L621.2 510.8L620.9 509.8L620.6 508.8L618.6 508.1L616.9 507.3L615.7 506.2L615.1 505L615.3 503.8L616.3 502.6L617.6 501.6L616.7 500.3L616.4 499L616.9 497.9L618.5 497L620.6 496.6L621 495.5L621 494.1L621.8 493.1L623.5 492.7L625.6 492.7L626 491.4L626.5 490L627.6 489.2L629.2 488.9L631 489.1L632.5 488.9L633.6 487.6L635 486.7L636.6 486.2L638.3 486.1L639.9 486.4L641.5 486.9L643 487.4L644.9 486.8L646.8 486.3L648.7 486.2L650.5 486.6L651.9 487.5L652.9 488.8L653.4 490.3L655.4 490.5L656.9 491.1L657.8 492.2L657.7 493.9L656.7 495.7L657.2 496.7L658.2 497.6L658.2 498.7L657.1 500L655.4 501.2L656.2 502L657.2 502.9Z"/></clipPath><path d="M657.5 503.8L657 504.7L656.1 505.6L656.1 506.5L657.5 507.7L658.5 509L659 510.3L658.9 511.5L658.2 512.6L657.2 513.5L656.2 514.4L656.3 516L656 517.6L655.2 519L654 520.1L652.3 520.7L650.3 520.8L648.3 520.6L647.1 522L645.6 523L643.8 523.3L641.8 522.8L639.9 521.6L638.2 521.7L636.5 522.1L634.8 521.7L633.5 520.3L632.7 518.4L631.2 518.2L629.7 518L628.5 517.3L627.9 516L627.8 514.5L627.2 513.5L625.6 513.4L624 513.1L622.8 512.5L621.8 511.8L621.2 510.8L620.9 509.8L620.6 508.8L618.6 508.1L616.9 507.3L615.7 506.2L615.1 505L615.3 503.8L616.3 502.6L617.6 501.6L616.7 500.3L616.4 499L616.9 497.9L618.5 497L620.6 496.6L621 495.5L621 494.1L621.8 493.1L623.5 492.7L625.6 492.7L626 491.4L626.5 490L627.6 489.2L629.2 488.9L631 489.1L632.5 488.9L633.6 487.6L635 486.7L636.6 486.2L638.3 486.1L639.9 486.4L641.5 486.9L643 487.4L644.9 486.8L646.8 486.3L648.7 486.2L650.5 486.6L651.9 487.5L652.9 488.8L653.4 490.3L655.4 490.5L656.9 491.1L657.8 492.2L657.7 493.9L656.7 495.7L657.2 496.7L658.2 497.6L658.2 498.7L657.1 500L655.4 501.2L656.2 502L657.2 502.9Z" fill="#fad7ae" stroke="#f5be8a" stroke-width="1" stroke-linejoin="round"/><g clip-path="url(#pc11)"><circle cx="637.1" cy="515.9" r="4.8" fill="#fde4c8" opacity="0.4"/><circle cx="651.1" cy="501.2" r="4.4" fill="#f5be8a" opacity="0.4"/><circle cx="628.4" cy="512.5" r="5.1" fill="#fde4c8" opacity="0.4"/><circle cx="658.7" cy="503.1" r="5.4" fill="#f5be8a" opacity="0.4"/><circle cx="648.5" cy="506.5" r="5.4" fill="#fde4c8" opacity="0.4"/><circle cx="631.9" cy="501.4" r="4.6" fill="#f5be8a" opacity="0.4"/><circle cx="648.1" cy="500.7" r="4" fill="#fde4c8" opacity="0.4"/><circle cx="648.5" cy="518.3" r="3.6" fill="#f5be8a" opacity="0.4"/><circle cx="638.8" cy="508.5" r="3.4" fill="#fde4c8" opacity="0.4"/><circle cx="640.4" cy="503.9" r="4.4" fill="#f5be8a" opacity="0.4"/><circle cx="635.4" cy="513.4" r="4.5" fill="#fde4c8" opacity="0.4"/><circle cx="632.1" cy="516.9" r="3.7" fill="#f5be8a" opacity="0.4"/><circle cx="626.7" cy="504" r="4.9" fill="#fde4c8" opacity="0.4"/><circle cx="628.9" cy="506.4" r="5.4" fill="#f5be8a" opacity="0.4"/><circle cx="641.4" cy="494.2" r="4.7" fill="#fde4c8" opacity="0.4"/><circle cx="635" cy="503.7" r="3.6" fill="#f5be8a" opacity="0.4"/></g>
<clipPath id="pc13"><path d="M685.6 525.9L685.8 527.3L685.1 528.6L683.8 529.7L684.8 531.2L685.4 532.9L685.3 534.4L684.5 535.7L683.1 536.7L681.3 537.4L679.3 537.9L678.6 539.2L677.8 540.4L676.6 541.5L675.1 542.2L673.3 542.5L671.3 542.2L669.2 541.6L667.8 542L666.6 543L665.1 543.6L663.5 543.5L661.9 542.6L660.5 541.8L658.9 543L657.2 543.7L655.7 543.4L654.4 542.4L653.2 541.6L651 542.4L649.1 542.4L647.7 541.7L646.9 540.4L646.5 538.8L644.7 538.5L642.9 538L641.7 537.1L641 535.9L640.9 534.4L641.3 532.9L642 531.4L641.1 530.4L640.2 529.4L639.5 528.3L639.3 527.1L639.6 525.9L640.5 524.8L641.7 523.7L641.5 522.6L640.5 521.2L640.2 519.9L640.7 518.7L642 517.9L643.4 517.1L642.6 515.2L642.6 513.6L643.6 512.4L645.3 511.9L646.7 511.3L647 509.3L647.9 507.7L649.5 507L651.5 506.9L653.6 507.3L655 506.1L656.6 505.1L658.4 504.7L660.3 504.9L662.1 505.7L663.7 507L665.1 508.5L666.6 508.7L668.2 508.9L669.6 509.4L670.9 510.3L671.8 511.5L672.3 512.9L672.4 514.6L673.4 515.2L675.1 515.3L676.4 515.8L677.2 516.7L677.3 518L677.3 519.2L679.6 519.4L681.5 520.1L682.2 521.1L682 522.4L682.1 523.6L684.2 524.6Z"/></clipPath><path d="M685.6 525.9L685.8 527.3L685.1 528.6L683.8 529.7L684.8 531.2L685.4 532.9L685.3 534.4L684.5 535.7L683.1 536.7L681.3 537.4L679.3 537.9L678.6 539.2L677.8 540.4L676.6 541.5L675.1 542.2L673.3 542.5L671.3 542.2L669.2 541.6L667.8 542L666.6 543L665.1 543.6L663.5 543.5L661.9 542.6L660.5 541.8L658.9 543L657.2 543.7L655.7 543.4L654.4 542.4L653.2 541.6L651 542.4L649.1 542.4L647.7 541.7L646.9 540.4L646.5 538.8L644.7 538.5L642.9 538L641.7 537.1L641 535.9L640.9 534.4L641.3 532.9L642 531.4L641.1 530.4L640.2 529.4L639.5 528.3L639.3 527.1L639.6 525.9L640.5 524.8L641.7 523.7L641.5 522.6L640.5 521.2L640.2 519.9L640.7 518.7L642 517.9L643.4 517.1L642.6 515.2L642.6 513.6L643.6 512.4L645.3 511.9L646.7 511.3L647 509.3L647.9 507.7L649.5 507L651.5 506.9L653.6 507.3L655 506.1L656.6 505.1L658.4 504.7L660.3 504.9L662.1 505.7L663.7 507L665.1 508.5L666.6 508.7L668.2 508.9L669.6 509.4L670.9 510.3L671.8 511.5L672.3 512.9L672.4 514.6L673.4 515.2L675.1 515.3L676.4 515.8L677.2 516.7L677.3 518L677.3 519.2L679.6 519.4L681.5 520.1L682.2 521.1L682 522.4L682.1 523.6L684.2 524.6Z" fill="#e8cd86" stroke="#dcbb68" stroke-width="1" stroke-linejoin="round"/><g clip-path="url(#pc13)"><circle cx="654.1" cy="524.1" r="3.9" fill="#f0daa0" opacity="0.4"/><circle cx="658.7" cy="526.9" r="4.4" fill="#dcbb68" opacity="0.4"/><circle cx="674.3" cy="522.4" r="5.2" fill="#f0daa0" opacity="0.4"/><circle cx="664.1" cy="525.3" r="3.2" fill="#dcbb68" opacity="0.4"/><circle cx="642.3" cy="532.8" r="4.3" fill="#f0daa0" opacity="0.4"/><circle cx="666.3" cy="511.8" r="3.3" fill="#dcbb68" opacity="0.4"/><circle cx="644.8" cy="529" r="3.6" fill="#f0daa0" opacity="0.4"/><circle cx="672.7" cy="536.8" r="3.9" fill="#dcbb68" opacity="0.4"/><circle cx="657.2" cy="517.1" r="3.4" fill="#f0daa0" opacity="0.4"/><circle cx="648.1" cy="537.2" r="4.1" fill="#dcbb68" opacity="0.4"/><circle cx="643.6" cy="521.4" r="3.9" fill="#f0daa0" opacity="0.4"/><circle cx="664" cy="523.2" r="4.3" fill="#dcbb68" opacity="0.4"/><circle cx="661.7" cy="533.3" r="5.4" fill="#f0daa0" opacity="0.4"/><circle cx="670.5" cy="539.7" r="4.4" fill="#dcbb68" opacity="0.4"/><circle cx="679.7" cy="520.2" r="3.2" fill="#f0daa0" opacity="0.4"/><circle cx="676.1" cy="521.9" r="5" fill="#dcbb68" opacity="0.4"/></g>
<clipPath id="pc12"><path d="M714.6 469.3L713.3 470.4L712.5 471.5L713.2 472.7L713.5 473.9L713.2 475.1L712.5 476.2L711.4 477.1L709.9 477.7L708.3 478.2L707.9 479.4L707.8 480.8L707.3 482.1L706.3 483.1L704.9 483.7L703.2 483.9L701.5 484.2L700.8 485.8L699.6 487.1L697.9 487.7L696.1 487.4L694.3 486.7L692.7 488L690.9 488.7L689.1 488.4L687.5 487.3L686.2 486.1L684.3 486.5L682.6 486.3L681.2 485.5L680.3 484.1L679.9 482.4L679.4 481.1L678 480.7L676.9 480L676 479.1L675.6 478.1L675.5 476.9L675.8 475.6L676.3 474.4L675.5 473.7L674.1 473.1L672.9 472.3L672.1 471.4L672 470.3L672.4 469.3L672.7 468.3L670.8 467.1L669.5 465.8L669.2 464.5L670 463.4L671.2 462.5L670 460.7L669.6 459L670.4 457.8L672.2 457L674 456.5L674.2 454.8L675.1 453.4L676.7 452.6L678.8 452.5L681 452.8L682.9 453L684.3 452.1L685.9 451.6L687.6 451.5L689.3 451.8L691 452.4L692.5 453.4L693.9 454.6L695.3 454.7L696.8 454.4L698.3 454.4L699.7 454.7L700.8 455.5L701.6 456.7L702.3 457.7L704.4 457.3L706.2 457.4L707.4 458.1L707.9 459.3L707.9 460.6L710.2 460.7L712 461.3L712.8 462.4L712.5 463.7L712 465L713.9 465.8L715 466.9L715.2 468.1Z"/></clipPath><path d="M714.6 469.3L713.3 470.4L712.5 471.5L713.2 472.7L713.5 473.9L713.2 475.1L712.5 476.2L711.4 477.1L709.9 477.7L708.3 478.2L707.9 479.4L707.8 480.8L707.3 482.1L706.3 483.1L704.9 483.7L703.2 483.9L701.5 484.2L700.8 485.8L699.6 487.1L697.9 487.7L696.1 487.4L694.3 486.7L692.7 488L690.9 488.7L689.1 488.4L687.5 487.3L686.2 486.1L684.3 486.5L682.6 486.3L681.2 485.5L680.3 484.1L679.9 482.4L679.4 481.1L678 480.7L676.9 480L676 479.1L675.6 478.1L675.5 476.9L675.8 475.6L676.3 474.4L675.5 473.7L674.1 473.1L672.9 472.3L672.1 471.4L672 470.3L672.4 469.3L672.7 468.3L670.8 467.1L669.5 465.8L669.2 464.5L670 463.4L671.2 462.5L670 460.7L669.6 459L670.4 457.8L672.2 457L674 456.5L674.2 454.8L675.1 453.4L676.7 452.6L678.8 452.5L681 452.8L682.9 453L684.3 452.1L685.9 451.6L687.6 451.5L689.3 451.8L691 452.4L692.5 453.4L693.9 454.6L695.3 454.7L696.8 454.4L698.3 454.4L699.7 454.7L700.8 455.5L701.6 456.7L702.3 457.7L704.4 457.3L706.2 457.4L707.4 458.1L707.9 459.3L707.9 460.6L710.2 460.7L712 461.3L712.8 462.4L712.5 463.7L712 465L713.9 465.8L715 466.9L715.2 468.1Z" fill="#efc64c" stroke="#e4b438" stroke-width="1" stroke-linejoin="round"/><g clip-path="url(#pc12)"><circle cx="697.1" cy="475" r="5" fill="#f5d56e" opacity="0.4"/><circle cx="681.6" cy="467.1" r="3.8" fill="#e4b438" opacity="0.4"/><circle cx="680.8" cy="466.8" r="4.7" fill="#f5d56e" opacity="0.4"/><circle cx="700.4" cy="476.2" r="3.7" fill="#e4b438" opacity="0.4"/><circle cx="692.4" cy="454.2" r="4.2" fill="#f5d56e" opacity="0.4"/><circle cx="695.9" cy="466.6" r="4.6" fill="#e4b438" opacity="0.4"/><circle cx="691.8" cy="476.4" r="4.3" fill="#f5d56e" opacity="0.4"/><circle cx="694.7" cy="470.7" r="3.7" fill="#e4b438" opacity="0.4"/><circle cx="678.5" cy="461.8" r="4.9" fill="#f5d56e" opacity="0.4"/><circle cx="684.6" cy="481.2" r="5.3" fill="#e4b438" opacity="0.4"/><circle cx="700.5" cy="467.2" r="3.9" fill="#f5d56e" opacity="0.4"/><circle cx="697" cy="481.3" r="4.2" fill="#e4b438" opacity="0.4"/><circle cx="682.2" cy="465.2" r="5.2" fill="#f5d56e" opacity="0.4"/><circle cx="707.4" cy="479.4" r="5" fill="#e4b438" opacity="0.4"/><circle cx="692.1" cy="456.2" r="5.3" fill="#f5d56e" opacity="0.4"/><circle cx="672.6" cy="472" r="5.3" fill="#e4b438" opacity="0.4"/></g>
<clipPath id="pc15"><path d="M709.6 500.5L708.1 502.4L706.2 504L706.5 505.8L705.9 507.4L704.3 508.7L701.9 509.3L699.9 509.8L699.7 511.4L699.1 512.6L697.9 513.4L696.4 513.8L694.8 513.8L694.2 515L693.9 516.8L693.3 518.3L692.3 519.4L691.1 520L689.7 520.1L688.3 519.7L687 519.6L685.9 520.8L684.7 521.6L683.3 522L682 521.8L680.7 520.9L679.7 519.6L678.5 519.1L676.9 520L675.3 520.3L673.9 519.8L673.1 518.4L672.4 516.9L670.3 517.3L668.6 517L667.6 515.7L667.5 513.8L667.3 512L665.6 511.3L664.4 510.1L664.1 508.5L664.4 506.7L665.2 504.9L664.6 503.5L663.3 502.1L662.4 500.5L661.9 498.8L661.9 497.1L662.2 495.4L662.9 493.8L663.3 492.2L662.7 490L662.6 487.9L663.1 486.1L664.3 484.7L666.1 483.9L668.4 483.8L670.1 483.4L671.1 482.2L672.4 481.5L674.2 481.8L676.2 482.9L678.1 484.2L678.9 483.1L679.9 482.5L681.2 482.8L682.4 483.9L683.5 484.6L684.6 483L685.7 482.1L686.9 482L688 482.7L688.9 483.8L690.2 483.5L691.8 482.7L693.4 482.5L694.8 482.7L696 483.5L697 484.5L697.8 485.8L698.9 486.7L701 486.8L703.1 487.3L704.9 488.2L706.3 489.5L707 491.2L707.1 493.2L707.6 494.9L709.2 496.6L710 498.5Z"/></clipPath><path d="M709.6 500.5L708.1 502.4L706.2 504L706.5 505.8L705.9 507.4L704.3 508.7L701.9 509.3L699.9 509.8L699.7 511.4L699.1 512.6L697.9 513.4L696.4 513.8L694.8 513.8L694.2 515L693.9 516.8L693.3 518.3L692.3 519.4L691.1 520L689.7 520.1L688.3 519.7L687 519.6L685.9 520.8L684.7 521.6L683.3 522L682 521.8L680.7 520.9L679.7 519.6L678.5 519.1L676.9 520L675.3 520.3L673.9 519.8L673.1 518.4L672.4 516.9L670.3 517.3L668.6 517L667.6 515.7L667.5 513.8L667.3 512L665.6 511.3L664.4 510.1L664.1 508.5L664.4 506.7L665.2 504.9L664.6 503.5L663.3 502.1L662.4 500.5L661.9 498.8L661.9 497.1L662.2 495.4L662.9 493.8L663.3 492.2L662.7 490L662.6 487.9L663.1 486.1L664.3 484.7L666.1 483.9L668.4 483.8L670.1 483.4L671.1 482.2L672.4 481.5L674.2 481.8L676.2 482.9L678.1 484.2L678.9 483.1L679.9 482.5L681.2 482.8L682.4 483.9L683.5 484.6L684.6 483L685.7 482.1L686.9 482L688 482.7L688.9 483.8L690.2 483.5L691.8 482.7L693.4 482.5L694.8 482.7L696 483.5L697 484.5L697.8 485.8L698.9 486.7L701 486.8L703.1 487.3L704.9 488.2L706.3 489.5L707 491.2L707.1 493.2L707.6 494.9L709.2 496.6L710 498.5Z" fill="#dca452" stroke="#cc903c" stroke-width="1" stroke-linejoin="round"/><g clip-path="url(#pc15)"><circle cx="697.6" cy="512.6" r="5.7" fill="#e6b468" opacity="0.4"/><circle cx="675.3" cy="506.9" r="3.9" fill="#cc903c" opacity="0.4"/><circle cx="692.9" cy="504.6" r="3.9" fill="#e6b468" opacity="0.4"/><circle cx="689.9" cy="494.2" r="3.9" fill="#cc903c" opacity="0.4"/><circle cx="703" cy="492.8" r="3.6" fill="#e6b468" opacity="0.4"/><circle cx="674.3" cy="516.8" r="4.4" fill="#cc903c" opacity="0.4"/><circle cx="671.2" cy="489.6" r="5.1" fill="#e6b468" opacity="0.4"/><circle cx="701.7" cy="505.8" r="5.5" fill="#cc903c" opacity="0.4"/><circle cx="671.7" cy="504" r="5.3" fill="#e6b468" opacity="0.4"/><circle cx="705.4" cy="499.3" r="3.9" fill="#cc903c" opacity="0.4"/><circle cx="684.9" cy="487.7" r="5.9" fill="#e6b468" opacity="0.4"/><circle cx="699.1" cy="498.2" r="5.7" fill="#cc903c" opacity="0.4"/><circle cx="689.5" cy="496.5" r="4.4" fill="#e6b468" opacity="0.4"/><circle cx="694.1" cy="497.6" r="4.5" fill="#cc903c" opacity="0.4"/><circle cx="675" cy="492.6" r="5.4" fill="#e6b468" opacity="0.4"/><circle cx="691" cy="513.4" r="4.8" fill="#cc903c" opacity="0.4"/></g>
<clipPath id="pc16"><path d="M663.6 470.3L662.7 471.2L662 472L663 473L663.8 474.1L664.1 475.2L663.9 476.2L663.4 477.1L662.5 477.9L661.4 478.5L661.1 479.6L661.2 481L660.8 482.3L660.1 483.4L658.9 484.1L657.4 484.4L655.7 484.3L655 485.8L653.9 487L652.5 487.6L650.8 487.4L649.2 486.5L647.8 487.3L646.2 487.9L644.7 487.7L643.3 486.6L642.3 485L640.8 485.3L639.3 485.2L638.1 484.5L637.3 483.4L636.9 482L636.5 480.8L635.1 480.6L633.7 480.3L632.6 479.8L631.7 479L631.2 478L630.9 477L630.9 475.9L630.1 475.1L628.7 474.4L627.6 473.5L627 472.5L627.1 471.4L627.9 470.3L629.2 469.3L628.2 468.2L627.7 467.1L628 466L629.3 465.2L631.1 464.7L630.8 463.6L630.7 462.3L631.4 461.4L632.8 461L634.5 460.9L634.6 459.5L635 458.2L635.9 457.4L637.2 457.1L638.8 457.1L640.2 457.2L641.1 456L642.1 455L643.4 454.4L644.8 454.1L646.3 454.2L647.7 454.5L649 455L650.5 454.8L652.1 454.2L653.8 453.8L655.5 453.9L656.8 454.5L657.9 455.6L658.5 457L660.3 457L661.9 457.4L662.8 458.3L663 459.8L662.4 461.6L663.4 462.3L664.4 463.1L664.5 464.2L663.7 465.6L662.3 466.9L663.2 467.6L664 468.4L664.1 469.4Z"/></clipPath><path d="M663.6 470.3L662.7 471.2L662 472L663 473L663.8 474.1L664.1 475.2L663.9 476.2L663.4 477.1L662.5 477.9L661.4 478.5L661.1 479.6L661.2 481L660.8 482.3L660.1 483.4L658.9 484.1L657.4 484.4L655.7 484.3L655 485.8L653.9 487L652.5 487.6L650.8 487.4L649.2 486.5L647.8 487.3L646.2 487.9L644.7 487.7L643.3 486.6L642.3 485L640.8 485.3L639.3 485.2L638.1 484.5L637.3 483.4L636.9 482L636.5 480.8L635.1 480.6L633.7 480.3L632.6 479.8L631.7 479L631.2 478L630.9 477L630.9 475.9L630.1 475.1L628.7 474.4L627.6 473.5L627 472.5L627.1 471.4L627.9 470.3L629.2 469.3L628.2 468.2L627.7 467.1L628 466L629.3 465.2L631.1 464.7L630.8 463.6L630.7 462.3L631.4 461.4L632.8 461L634.5 460.9L634.6 459.5L635 458.2L635.9 457.4L637.2 457.1L638.8 457.1L640.2 457.2L641.1 456L642.1 455L643.4 454.4L644.8 454.1L646.3 454.2L647.7 454.5L649 455L650.5 454.8L652.1 454.2L653.8 453.8L655.5 453.9L656.8 454.5L657.9 455.6L658.5 457L660.3 457L661.9 457.4L662.8 458.3L663 459.8L662.4 461.6L663.4 462.3L664.4 463.1L664.5 464.2L663.7 465.6L662.3 466.9L663.2 467.6L664 468.4L664.1 469.4Z" fill="#cf8b15" stroke="#b9750a" stroke-width="1" stroke-linejoin="round"/><g clip-path="url(#pc16)"><circle cx="653" cy="466.3" r="2.8" fill="#dc9d2c" opacity="0.4"/><circle cx="658.2" cy="478.7" r="4.3" fill="#b9750a" opacity="0.4"/><circle cx="661" cy="469.6" r="3.9" fill="#dc9d2c" opacity="0.4"/><circle cx="642.5" cy="460.7" r="3.7" fill="#b9750a" opacity="0.4"/><circle cx="649.2" cy="472.7" r="4.3" fill="#dc9d2c" opacity="0.4"/><circle cx="652.3" cy="456.4" r="4.1" fill="#b9750a" opacity="0.4"/><circle cx="641.1" cy="467.1" r="4.3" fill="#dc9d2c" opacity="0.4"/><circle cx="631.4" cy="467.8" r="4.2" fill="#b9750a" opacity="0.4"/><circle cx="650" cy="458.7" r="4.2" fill="#dc9d2c" opacity="0.4"/><circle cx="634.1" cy="475.8" r="3.7" fill="#b9750a" opacity="0.4"/><circle cx="634" cy="460.9" r="4.4" fill="#dc9d2c" opacity="0.4"/><circle cx="644.1" cy="459" r="3.1" fill="#b9750a" opacity="0.4"/><circle cx="652.8" cy="462.2" r="3.3" fill="#dc9d2c" opacity="0.4"/><circle cx="654.6" cy="462.4" r="4" fill="#b9750a" opacity="0.4"/><circle cx="652.9" cy="482.2" r="4.5" fill="#dc9d2c" opacity="0.4"/><circle cx="635.2" cy="461.3" r="3.7" fill="#b9750a" opacity="0.4"/></g>
<clipPath id="pc14"><path d="M722.9 515.2L723.4 516.6L723.2 518.1L722.4 519.3L721 520.3L721.6 522L721.8 523.5L721.2 524.8L719.8 525.5L718.1 525.8L718.1 527.6L717.7 528.9L716.6 529.7L715.1 529.8L713.5 529.4L712.9 530.6L712.1 531.8L711.1 532.4L709.9 532.6L708.7 532.3L707.4 531.8L706.4 531.7L705.4 532.7L704.2 533.6L703 534L701.8 534.1L700.6 533.8L699.6 533L698.7 531.9L697.3 532.1L695.9 532.3L694.5 532L693.6 531L693.2 529.4L693.3 527.5L691.9 527.1L690.8 526.4L690.4 525.1L690.8 523.4L691.6 521.7L690.4 521L689.6 520L689.5 518.8L690.1 517.5L691.1 516.3L690.1 515.2L689.3 514L688.9 512.7L689.1 511.5L689.6 510.4L690.3 509.4L690.7 508.3L690.2 506.6L690 505L690.2 503.5L690.7 502.1L691.6 501.1L692.7 500.4L694 500L694.6 498.5L695.2 496.9L696.2 495.7L697.5 495.1L699 495.4L700.5 496.3L701.6 495.1L702.8 494.4L704.2 494.7L705.4 496L706.5 497.8L707.7 497.2L708.8 497.3L709.8 498.3L710.4 499.9L710.7 501.8L711.8 501.7L713 501.8L713.9 502.3L714.6 503.2L715 504.3L715.3 505.5L715.9 506.3L717.4 506.5L718.8 507L719.9 507.8L720.8 508.8L721.2 510L721.2 511.3L720.9 512.7L721.8 513.9Z"/></clipPath><path d="M722.9 515.2L723.4 516.6L723.2 518.1L722.4 519.3L721 520.3L721.6 522L721.8 523.5L721.2 524.8L719.8 525.5L718.1 525.8L718.1 527.6L717.7 528.9L716.6 529.7L715.1 529.8L713.5 529.4L712.9 530.6L712.1 531.8L711.1 532.4L709.9 532.6L708.7 532.3L707.4 531.8L706.4 531.7L705.4 532.7L704.2 533.6L703 534L701.8 534.1L700.6 533.8L699.6 533L698.7 531.9L697.3 532.1L695.9 532.3L694.5 532L693.6 531L693.2 529.4L693.3 527.5L691.9 527.1L690.8 526.4L690.4 525.1L690.8 523.4L691.6 521.7L690.4 521L689.6 520L689.5 518.8L690.1 517.5L691.1 516.3L690.1 515.2L689.3 514L688.9 512.7L689.1 511.5L689.6 510.4L690.3 509.4L690.7 508.3L690.2 506.6L690 505L690.2 503.5L690.7 502.1L691.6 501.1L692.7 500.4L694 500L694.6 498.5L695.2 496.9L696.2 495.7L697.5 495.1L699 495.4L700.5 496.3L701.6 495.1L702.8 494.4L704.2 494.7L705.4 496L706.5 497.8L707.7 497.2L708.8 497.3L709.8 498.3L710.4 499.9L710.7 501.8L711.8 501.7L713 501.8L713.9 502.3L714.6 503.2L715 504.3L715.3 505.5L715.9 506.3L717.4 506.5L718.8 507L719.9 507.8L720.8 508.8L721.2 510L721.2 511.3L720.9 512.7L721.8 513.9Z" fill="#f8b672" stroke="#f09c52" stroke-width="1" stroke-linejoin="round"/><g clip-path="url(#pc14)"><circle cx="698.7" cy="511.4" r="4.2" fill="#fbc890" opacity="0.4"/><circle cx="714.4" cy="509.6" r="3.7" fill="#f09c52" opacity="0.4"/><circle cx="706.4" cy="523.3" r="3" fill="#fbc890" opacity="0.4"/><circle cx="702.2" cy="507.6" r="4.2" fill="#f09c52" opacity="0.4"/><circle cx="711.1" cy="518.5" r="2.6" fill="#fbc890" opacity="0.4"/><circle cx="706" cy="504.6" r="3.3" fill="#f09c52" opacity="0.4"/><circle cx="699" cy="527.7" r="3.2" fill="#fbc890" opacity="0.4"/><circle cx="707.5" cy="526.4" r="3" fill="#f09c52" opacity="0.4"/><circle cx="715.8" cy="525.5" r="3.7" fill="#fbc890" opacity="0.4"/><circle cx="697.2" cy="500.9" r="3.2" fill="#f09c52" opacity="0.4"/><circle cx="697.3" cy="523.1" r="3.2" fill="#fbc890" opacity="0.4"/><circle cx="704.2" cy="514" r="3.3" fill="#f09c52" opacity="0.4"/><circle cx="695.7" cy="512.9" r="2.5" fill="#fbc890" opacity="0.4"/><circle cx="704.4" cy="513.6" r="3.5" fill="#f09c52" opacity="0.4"/><circle cx="706.5" cy="517.9" r="2.8" fill="#fbc890" opacity="0.4"/><circle cx="710.4" cy="518" r="3.7" fill="#f09c52" opacity="0.4"/></g>
<ellipse cx="669.8" cy="495.9" rx="58.8" ry="57.4" fill="none" stroke="#1a1a1a" stroke-width="1.3"/>
</g>
<g id="nanoparticles">
<g><path d="M930.8 461.6Q934.6 463.7 937 460.3M930.1 466.2Q933.2 469.2 936.4 466.5M929.4 468.1Q932.1 471.3 935.3 469.1M926.7 472.6Q931.2 473.5 930.7 477.9M924.1 475.2Q924.9 479 928.5 478.7M920.6 477.4Q923.4 479.7 921.8 482.5M917.4 478.5Q916.3 482.9 920.4 484.4M913.7 479.1Q916 482.9 912.6 485.4M908.8 478.6Q909.6 482.3 906.5 483.4M904.6 477Q904.5 480.8 901 481.2M901.1 474.6Q900.1 478.9 895.8 478.3M898.5 471.6Q894.4 472.1 894.5 476.1M897.2 469.6Q892.7 469.5 892.2 473.9M895.5 464.3Q891.9 467.1 888.9 463.9M895.2 461.6Q891.8 463.4 889.9 460.5M895.5 458.2Q892.3 455.9 889.8 458.5M896.5 454.5Q892.3 455 891.4 451M898.8 450.5Q894.4 449.9 894.7 445.6M901.6 447.6Q900.7 443.6 896.9 444M904.4 445.7Q900.5 443.3 902.6 439.3M909.6 443.8Q906.7 440.4 909.8 437.4M913.6 443.5Q915.6 440 912.6 437.9M915.9 443.7Q914.9 440.2 917.9 438.9M921.6 445.7Q924.8 443.5 923.2 440.5M924.8 448Q925.8 443.5 930.2 444.1M926.7 450Q930.8 449.1 930.4 445.2M928.7 452.8Q933 452.9 933.4 448.7M930.5 458.1Q934.1 459.1 935.4 456.1" fill="none" stroke="#2251a4" stroke-width="1.1" stroke-linecap="round"/><circle cx="913" cy="461.3" r="19.3" fill="#7fabdc"/><circle cx="913" cy="461.3" r="18.3" fill="none" stroke="#6c9ad1" stroke-width="1.9" opacity="0.8"/><ellipse cx="914.9" cy="460.3" rx="11.6" ry="10.6" fill="#8fb7e3" opacity="0.6"/><path d="M920.6 466.2q0.8 -1.7 -2 -1.7M920.9 456.8q1.3 1.4 2.3 -1.2M904.6 458.9q-1.9 -0.3 -1.1 2.4M915.6 466.5q-1.2 1.5 1.5 2.1M906.5 445.2q-1.3 1.4 1.4 2.2M929.4 466.5q-0.1 -1.9 -2.5 -0.5M906.5 465.6q0.6 -1.8 -2.2 -1.4M917.9 451.9q-1.3 -1.4 -2.3 1.2M928.3 466.9q0.1 1.9 2.5 0.5M897.7 461.9q-1 1.6 1.8 1.9M911.1 444.7q1 -1.6 -1.8 -1.9M914.5 455.3q-1.2 -1.5 -2.4 1M922.1 473.7q-1.9 0 -0.7 2.5M896.4 466.3q1.8 0.7 1.6 -2.1M923.4 459.7q-0.7 -1.8 -2.6 0.2M911.6 450.6q-1.9 0 -0.7 2.5M907.5 465.1q-1.6 -0.9 -1.9 1.8M929.8 460.1q0.9 -1.6 -1.8 -1.9M903.9 461.3q-0.5 1.8 2.2 1.4" fill="none" stroke="#2a5aac" stroke-width="1.1" stroke-linecap="round"/><path d="M920.5 447.3L920.7 447.9L920.8 448.5L920.6 449.1L920 449.6L919.3 449.9L919 450.5L918.2 450.7L917.4 450.7L916.8 451.2L916 451.6L915.1 451.6L914.3 451.4L913.6 451L912.9 450.7L912.3 450.2L912 449.6L911.9 448.9L912.2 448.3L911.7 447.8L911.5 447.3L911.9 446.8L911.7 446.2L911.7 445.6L911.9 445L912.4 444.4L913 444L913.5 443.5L914.2 443L915.1 442.7L916 442.9L916.8 443.5L917.5 443.7L918.2 443.9L918.6 444.4L919.1 444.8L919.9 445L920.5 445.5L920.7 446.1L920.6 446.7Z" fill="#f6b25e"/><path d="M904.3 452L904 452.5L904.2 453.1L904 453.6L903.5 454L903.3 454.4L903 454.9L902.6 455.3L902 455.4L901.5 455.4L901 455.1L900.5 455.1L900.1 455.1L899.6 454.9L899.4 454.3L898.9 454.2L898.5 453.9L898.3 453.5L898.1 453L897.7 452.6L897.4 452L897.4 451.4L897.6 450.8L897.9 450.3L898.3 450L898.6 449.5L899 449.1L899.6 449.1L900.1 449L900.5 448.8L901 448.9L901.4 449.2L901.9 449L902.4 449L902.9 449.2L903.3 449.6L903.6 450L903.7 450.5L904.1 450.9L904.4 451.4Z" fill="#e9bc58"/><path d="M930 451L930 451.5L929.6 451.8L929.3 452.1L929.2 452.5L929 452.9L928.7 453.3L928.3 453.5L927.9 453.7L927.4 453.6L927 454L926.5 454L926.1 453.7L925.6 453.6L925.1 453.5L924.8 453.1L924.6 452.7L924.2 452.4L923.9 452L923.8 451.5L923.8 451L924 450.5L924.3 450.2L924.5 449.7L924.6 449.3L925 449.1L925.5 449L925.7 448.6L926.1 448.4L926.6 448.5L927 448.4L927.5 448.1L928 448.1L928.5 448.1L929 448.4L929.3 448.8L929.6 449.2L930 449.5L930.1 450L929.8 450.6Z" fill="#f8d4a2"/><path d="M914.2 461.7L913.8 462.4L913.7 463.1L913.3 463.7L912.9 464.2L912.3 464.6L911.7 464.8L911.2 465L910.9 465.6L910.3 465.9L909.7 465.6L909.1 466.1L908.4 466L907.9 465.6L907.5 465L907 464.6L906.5 464.3L906.1 463.7L905.8 463.1L905.7 462.4L906 461.7L905.6 461L905.6 460.2L906 459.7L906.2 458.9L906.5 458.2L907.2 457.9L907.9 457.9L908.6 458L909.2 457.9L909.7 457.9L910.2 457.9L910.8 458.1L911.2 458.4L911.9 458.4L912.6 458.5L913 459L913.4 459.6L914.1 460.1L914.3 460.9Z" fill="#f6b25e"/><path d="M925.9 459.6L926.1 460.3L925.8 460.9L925.3 461.4L925.3 462.1L924.8 462.6L924.1 462.8L923.6 463.3L923 463.7L922.3 463.7L921.6 463.6L921 463.3L920.4 463L919.8 463L919.1 462.9L918.5 462.5L918.4 461.8L917.9 461.4L917.6 460.8L917.8 460.2L917.8 459.6L917.6 459L917.5 458.4L917.7 457.7L918.1 457.2L918.6 456.8L919 456.3L919.5 455.7L920.1 455.4L920.9 455.5L921.6 455.5L922.3 455.3L922.9 455.7L923.3 456.4L923.9 456.6L924.4 457L924.7 457.5L925 458L925.2 458.5L925.4 459Z" fill="#cf7c1b"/><path d="M901.8 466.6L902 467L902.1 467.6L902 468.1L901.7 468.4L901.3 468.7L901 469.2L900.5 469.4L899.9 469.3L899.5 469.7L899 469.9L898.5 469.8L898 469.6L897.6 469.2L897.1 469.1L896.6 468.9L896.2 468.5L896 468.1L896 467.5L895.5 467.1L895.5 466.6L895.9 466.1L896 465.7L896.2 465.2L896.5 464.9L896.9 464.6L897.3 464.4L897.6 464L898 463.6L898.5 463.3L899 463.3L899.5 463.5L900.1 463.5L900.6 463.5L901 464L901.4 464.3L901.9 464.6L902.1 465.1L902 465.7L901.9 466.2Z" fill="#f8d4a2"/><path d="M924.3 472L924.4 472.6L924.1 473.1L924 473.7L923.9 474.4L923.2 474.8L922.5 474.9L922.1 475.4L921.4 475.8L920.7 475.9L920 476L919.3 475.8L918.6 475.7L917.8 475.6L917.2 475.3L916.8 474.7L916.7 474L916.1 473.7L916 473.1L916.2 472.5L915.9 472L915.8 471.4L915.9 470.9L916.2 470.4L916.6 469.9L917.1 469.5L917.3 468.8L917.7 468.1L918.4 467.8L919.3 468L920 467.8L920.8 467.9L921.3 468.5L921.9 468.8L922.6 469L923.1 469.3L923.5 469.8L923.7 470.4L923.7 471L923.9 471.5Z" fill="#f8d4a2"/></g>
<g><path d="M1018.3 492.1Q1022.5 489.9 1025 493.9M1017.9 495.6Q1021 497.9 1023.4 495.4M1016.3 500.9Q1020.9 500.4 1021.7 505M1013.3 505.9Q1015 509.7 1018.7 508.5M1009.9 509.4Q1010.8 513.6 1014.9 513.2M1005.9 512.2Q1006 516.2 1009.8 516.6M1001 514.2Q1000.1 518.3 1003.9 519.4M996.5 515Q999.2 518.9 995.4 521.9M993.2 515.1Q990.6 519 994.4 521.8M987.3 514Q988 517.9 984.4 518.9M982.3 511.7Q978.7 513.9 980.4 517.4M978.4 508.8Q974.5 510.2 975.4 513.9M975.5 505.6Q970.7 506.2 970.9 511.1M972.7 500.9Q968.2 500.5 967.4 504.9M971.1 495.4Q967.3 498.6 963.9 495M970.7 491.7Q966.8 494 964.3 490.3M971.3 486.1Q968.2 483.6 965.6 486.1M972.8 481.6Q970.3 478.4 967.2 480.4M974.9 477.7Q970.9 477.3 971 473.4M977.8 474.3Q976.6 470.4 972.9 471.1M983.1 470.4Q983 466.5 979.5 466.2M985.8 469.1Q986.4 464.9 982.4 464.1M992.4 467.6Q990 464.1 993.1 461.6M996.7 467.6Q998.8 464.2 996 461.9M1000.6 468.3Q1003.6 465.2 1000.9 462.1M1006.1 470.5Q1006.1 465.6 1011 465.3M1011.4 474.6Q1016.1 473.3 1015.2 468.6M1014.4 478.2Q1018.7 477.9 1018.7 473.7M1016.6 482.4Q1019.4 479 1022.9 481.4M1017.9 486.9Q1021.2 484.2 1024.1 487.2" fill="none" stroke="#2251a4" stroke-width="1.1" stroke-linecap="round"/><circle cx="994.5" cy="491.3" r="25.3" fill="#7fabdc"/><circle cx="994.5" cy="491.3" r="24" fill="none" stroke="#6c9ad1" stroke-width="2.5" opacity="0.8"/><ellipse cx="997" cy="490" rx="15.2" ry="13.9" fill="#8fb7e3" opacity="0.6"/><path d="M994.3 480.6q-0.7 -1.9 -2.8 0.2M996.4 482.4q0.3 2.1 2.8 0.4M1005.9 502.5q-1.9 -0.8 -1.8 2.2M994 505q1.4 1.5 2.6 -1.3M994.1 504.4q1.8 1.1 2.1 -2M986.3 484.3q-0.9 -1.9 -2.8 0.5M985.9 492.5q-1.8 -1 -2 2M987.8 509.7q-2 -0.4 -1.3 2.6M982.5 472.5q1.4 1.5 2.5 -1.3M982.9 502.7q-2 -0.3 -1.2 2.6M983 499.9q2.1 0 0.8 -2.7M1004.7 487q0.5 2 2.8 0.1M987.6 493.6q0.2 2.1 2.8 0.5M995.7 483.2q1.8 -1 -0.6 -2.8M980.4 507.9q1.9 0.8 1.7 -2.3M1003.3 494.9q1.2 1.7 2.7 -0.9M984.5 482.6q2.1 -0.2 0.6 -2.8M1000.1 478q-0.9 -1.8 -2.8 0.6M1004.4 498.5q-1.2 1.7 1.7 2.3M983 479.7q-1.2 1.7 1.8 2.2M989 485.6q-0.8 1.9 2.2 1.8" fill="none" stroke="#2a5aac" stroke-width="1.1" stroke-linecap="round"/><path d="M983.7 478L983.8 478.6L983.8 479.2L983.5 479.7L983.1 480.1L983 480.8L982.7 481.5L982.1 482L981.5 482.2L980.7 482.3L980 482L979.3 482.2L978.6 482.1L978.1 481.6L977.6 481.1L976.9 480.9L976.5 480.4L976.5 479.7L976 479.2L975.6 478.7L975.5 478L975.6 477.3L976 476.8L976.5 476.3L976.8 475.8L977 475.2L977.6 474.8L978.3 474.8L978.7 474.2L979.3 473.9L980 474L980.7 473.9L981.5 473.7L982.2 473.9L982.9 474.3L983.3 474.8L983.5 475.6L983.6 476.2L984 476.8L984 477.4Z" fill="#e9bc58"/><path d="M1002.7 472.5L1002.4 473.1L1002.3 473.7L1002.5 474.5L1002.3 475.2L1002 475.9L1001.3 476.5L1000.4 476.6L999.6 476.9L998.9 477.3L998 477.1L997.2 476.7L996.4 476.8L995.6 476.6L995.1 476L994.7 475.4L993.9 475.1L993.3 474.6L992.9 474L992.7 473.2L992.9 472.5L993.4 471.9L993.2 471.2L993.6 470.5L994.4 470.2L994.6 469.5L995 468.9L995.7 468.6L996.5 468.4L997.2 468L998 467.6L998.9 467.5L999.8 467.6L1000.6 468.1L1001 468.9L1001.7 469.3L1002.2 469.8L1002.2 470.6L1002.3 471.3L1002.7 471.9Z" fill="#f6b25e"/><path d="M997 491.7L997 492.6L997.1 493.6L996.9 494.6L996.3 495.4L995.5 495.9L994.4 496L993.8 496.6L993 497L992.1 496.7L991.3 496.8L990.5 497L989.7 496.7L989 496.2L988.5 495.6L987.7 495.3L986.9 494.9L986.3 494.3L985.9 493.5L986 492.5L985.8 491.7L985.5 490.8L985.9 489.9L986.4 489.2L986.4 488.1L987 487.3L987.8 486.9L988.8 486.7L989.6 486.4L990.4 486.2L991.3 486.2L992.1 486.4L992.8 487L993.4 487.6L994.2 487.6L994.8 488.1L995 489L996 489.3L996.7 489.9L997 490.8Z" fill="#f6b25e"/><path d="M982 498L982.4 498.7L982.6 499.4L982.5 500.2L981.9 500.7L981.3 501.1L980.9 501.8L980.2 502.1L979.4 502L978.7 502.5L978 502.6L977.3 502.2L976.7 501.7L976.3 501.1L975.8 500.9L975.1 500.7L974.5 500.4L974 499.9L973.9 499.3L973.3 498.7L973.2 498L973.6 497.3L973.7 496.7L973.8 495.9L974.1 495.3L974.7 494.8L975.3 494.5L976 494.2L976.6 493.8L977.3 493.6L978 493.7L978.7 494L979.4 494L980.1 494L980.6 494.6L980.9 495.2L981.5 495.6L981.8 496.2L981.9 496.8L981.9 497.4Z" fill="#f8d4a2"/></g>
<g><path d="M958.9 549.4Q963.8 552.4 967.1 547.2M958.4 556.1Q964.3 553.5 967.2 559.8M956.4 563.5Q962.7 562.2 964.2 569M951.9 571.9Q957.6 572.3 957.4 578.2M946.8 577.7Q953.5 579.3 951.7 586.8M941.3 581.9Q941.2 588.5 948.4 588.7M932.8 585.8Q931.2 591.7 937.6 593.6M927.5 587Q932.3 592.2 926.6 597.4M919.3 587.4Q922 592.4 916.8 595.5M908.7 585.2Q904.1 588.8 907.8 593.8M902.4 582.2Q896.9 584.9 899.8 590.9M898.1 579.2Q897.4 584.7 891.6 584.2M891 571.5Q888.6 577.2 882.3 574.7M887.4 565Q883.9 570.2 878.2 566.5M884.9 556.7Q880 561.3 874.9 555.9M884.3 549.9Q879 546.3 875 552.1M885.3 541.4Q881.2 537.1 876.5 541.5M886.9 536.6Q883.2 531.6 877.7 535.4M890.5 529.6Q884.2 529.5 884.2 522.6M897.2 522Q896.3 515.2 888.8 516.2M904.4 517.1Q905 511.1 898.5 510.4M910.5 514.6Q905.5 510.5 909.9 504.9M919.2 513Q914.9 507.3 921.2 502.5M926.2 513.2Q929.7 508.8 925.3 505M933.8 514.9Q939.5 510.6 934.6 504.1M939.4 517.4Q944.8 514.4 941.7 508.6M944.9 521.1Q945.6 514.8 952.4 515.4M950.7 526.9Q956.3 526.2 955.8 520.4M955 533.5Q958 528.5 963.5 531.6M958.4 544.1Q962.6 540.4 966.7 544.7" fill="none" stroke="#2251a4" stroke-width="1.6" stroke-linecap="round"/><circle cx="921.6" cy="550.2" r="38.8" fill="#7fabdc"/><circle cx="921.6" cy="550.2" r="36.9" fill="none" stroke="#6c9ad1" stroke-width="3.9" opacity="0.8"/><ellipse cx="925.5" cy="548.3" rx="23.3" ry="21.3" fill="#8fb7e3" opacity="0.6"/><path d="M891.2 540.4q3.3 0.5 2 -4.2M932.6 537.6q-2.5 -2.3 -4 2.4M901.4 575q1.8 2.9 4.5 -1.2M929.8 561.7q-3.1 1.3 0.5 4.6M923.9 572q0.9 -3.3 -3.9 -2.5M920.8 560q-2.4 -2.4 -4.1 2.3M905.3 567.8q1.8 2.8 4.4 -1.4M913.3 529.1q1.5 -3 -3.4 -3.1M916.7 540.3q2.7 2.1 3.8 -2.7M927.5 519q3.4 0.1 1.4 -4.4M906.2 562.6q-1.2 3.2 3.7 2.8M914.1 541.8q-0.5 3.3 4.2 1.9M925.1 563.5q-3.2 -1 -2.5 3.9M930.8 553.3q-2.1 2.6 2.7 3.8M936.8 561.4q0.4 3.4 4.6 0.7M939.3 532.3q-2.1 2.7 2.8 3.7M921.3 568.7q-3.1 -1.4 -3.1 3.5M943.9 571.9q1.1 3.2 4.6 -0.2M900.2 554.8q-0.9 3.3 4 2.4M936.3 561.2q-3.3 0.6 -0.4 4.6M928.1 538.1q0.4 3.4 4.6 0.7" fill="none" stroke="#2a5aac" stroke-width="1.5" stroke-linecap="round"/><path d="M937.6 523L936.4 524.2L936.1 525.4L935.7 526.5L935.2 527.7L934.4 528.7L933.3 529.3L932.2 529.8L931.3 531.2L930 531.8L928.6 531.3L927.1 532.2L925.5 532.3L924.1 531.6L923.1 530.4L922 529.4L920.9 528.4L920 527.2L919.5 525.9L919.5 524.4L920.1 523L919.6 521.6L919.8 520.2L921.1 519.3L921.8 518.2L922.5 517.1L923.7 516.5L925.1 516.2L926.2 516L927.3 515.1L928.6 514.4L930.1 514.1L931.5 514.2L932.8 515L934.3 515.4L936 515.8L936.9 517.1L937.4 518.7L938.4 519.9L938.4 521.5Z" fill="#f6b25e"/><path d="M903.9 531.6L904 532.6L903.5 533.4L902.6 534L902.4 534.9L902.1 535.9L901.6 536.7L900.9 537.4L899.9 537.8L898.9 537.7L898 537.9L897 538.1L896.1 537.5L895.5 536.6L894.5 536.6L893.8 536L893.4 535.1L892.8 534.3L892 533.6L891.4 532.7L891.2 531.6L891.3 530.5L891.9 529.5L892.5 528.7L892.8 527.7L893.7 527.1L894.9 527.2L895.5 526.6L896.3 526.2L897.2 526.3L898 526.5L898.9 525.8L899.9 525.5L901 525.5L902 525.9L902.7 526.7L903.1 527.8L904 528.4L904.4 529.4L904.1 530.6Z" fill="#e9bc58"/><path d="M957.5 530L957 530.8L957.1 531.6L957 532.5L956.7 533.3L956 534L955 534.4L954.1 534.8L953.4 535.6L952.4 535.7L951.3 535.4L950.2 536L949 536L948 535.5L947.3 534.8L946.4 534.3L945.5 533.7L944.8 532.8L944.5 531.9L944.7 530.9L945.3 530L945 529.1L945.3 528.3L946.3 527.8L946.5 527L946.8 526.2L947.6 525.6L948.5 525.3L949.3 524.8L950.2 524.1L951.3 523.7L952.5 523.5L953.6 523.9L954.5 524.7L955.5 525L956.5 525.5L956.8 526.6L957.1 527.5L957.8 528.2L957.8 529.1Z" fill="#f8d4a2"/><path d="M947.8 547.4L947.6 548.6L946.9 549.7L945.7 550.4L945.7 551.7L945 552.6L943.7 552.9L942.9 553.9L942 554.9L940.8 555.5L939.4 555.7L938 555.5L936.8 554.9L935.3 554.8L934 554.4L933 553.4L932.7 552L931.7 551.1L930.8 550L930.9 548.7L931 547.4L930.7 546.1L931.1 544.9L931.9 543.8L933 543.1L934.2 542.5L935 541.8L935.8 540.8L936.9 540.1L938.2 540.2L939.4 540.1L940.7 539.5L942.1 539.7L943.2 540.5L944.9 540.3L946.4 540.9L947.4 542L947.9 543.4L947.8 544.8L947.6 546.2Z" fill="#cf7c1b"/><path d="M924.1 551.6L923.7 552.9L923.7 554.3L923.3 555.7L922.5 556.8L921.3 557.6L919.8 557.8L918.8 558.3L917.8 559.2L916.5 559.2L915.3 559L914 559.7L912.7 559.7L911.5 559.1L910.5 558.2L909.2 557.7L907.8 557L906.8 555.9L906.3 554.5L906.5 553L907.1 551.6L906.8 550.3L907.3 549L908.6 548.2L908.7 546.8L909.3 545.6L910.4 544.9L911.7 544.6L912.9 544.2L914 543.5L915.3 543.1L916.7 543.1L917.9 543.6L918.9 544.7L920.3 544.8L921.5 545.5L921.9 546.8L922.8 547.8L923.9 548.8L924.2 550.2Z" fill="#f6b25e"/><path d="M901.4 561.7L901.2 562.7L901 563.6L900.6 564.5L899.8 565.2L898.8 565.5L898 565.9L897.5 566.9L896.6 567.3L895.6 567.3L894.7 568.2L893.5 568.5L892.4 568.3L891.4 567.7L890.5 567.1L889.5 566.6L888.6 565.9L888 564.9L888 563.7L888.5 562.6L888 561.7L888.2 560.7L889.1 560L889.1 559L889.3 558L890 557.3L890.9 556.9L891.9 556.6L892.7 556L893.7 555.5L894.7 555.3L895.8 555.4L896.7 555.9L897.8 555.9L899 556.1L899.7 557L900.5 557.8L901.5 558.5L901.9 559.5L901.8 560.6Z" fill="#f8d4a2"/><path d="M945.4 573.3L945.5 574.5L944.8 575.5L944.9 576.8L944.7 578.2L943.4 579L942.3 579.7L941.4 580.9L940.1 581.7L938.6 582L937 581.8L935.6 581.2L934.3 580.7L932.8 580.5L931.5 579.9L930.8 578.8L929.9 577.8L928.5 577.1L928 575.9L928.5 574.5L927.8 573.3L927.8 572L928.4 570.9L929.3 569.9L930.3 569L931.4 568.3L931.8 567.1L932.8 566L934.1 565.5L935.6 565.7L937 564.7L938.6 564.6L939.9 565.3L941.5 565.5L943.1 566L944.1 567L944.7 568.4L944.7 569.8L944.4 571.2L944.8 572.2Z" fill="#f8d4a2"/></g>
<path d="M747.5 539.6H850" stroke="#111" stroke-width="2.2" fill="none"/>
<path d="M847 531.8L863.4 539.6L847 547.4Z" fill="#111"/>
</g>
<g id="syringe" transform="translate(8.8 866.2) rotate(-30.1)">
<path d="M156 0H182.5" stroke="#3a3a3a" stroke-width="1.1" fill="none"/>
<path d="M145 -2.8L152 -2.3L158 -0.9V0.9L152 2.3L145 2.8Z" fill="#2b9a8c" stroke="#1f7d72" stroke-width="0.5"/>
<path d="M2 -2.8H22L26 -5H50V5H26L22 2.8H2Z" fill="#d4d4d4" stroke="#9a9a9a" stroke-width="0.7"/>
<path d="M2 -0.8H22L26 -1.8H50" fill="none" stroke="#efefef" stroke-width="1.8"/>
<ellipse cx="1.8" cy="0" rx="2.9" ry="7" fill="#b3b3b3" stroke="#8a8a8a" stroke-width="0.8"/>
<path d="M52 -7.6H138.5V-3.2H143V3.2H138.5V7.6H52Z" fill="#e9e9e9" stroke="#8f8f8f" stroke-width="0.9" stroke-linejoin="round"/>
<path d="M92 -6.9H137.8V-2.8H146V2.8H137.8V6.9H92Z" fill="#b23a2b"/>
<path d="M92 2.6H137.8V6.9H92Z" fill="#8f2a20" opacity="0.75"/>
<path d="M95 -3.6H132" stroke="#e39a8e" stroke-width="0.9" fill="none"/>
<rect x="82" y="-7" width="10.5" height="14" fill="#3c3c3c"/>
<rect x="82" y="-7" width="10.5" height="4.4" fill="#5a5a5a"/>
<rect x="55" y="-6.6" width="27" height="4" fill="#fafafa"/>
<rect x="55" y="2.8" width="27" height="4" fill="#cdcdcd"/>
<ellipse cx="50.5" cy="0" rx="4.2" ry="13" fill="#b5b5b5" stroke="#8a8a8a" stroke-width="0.8"/>
<ellipse cx="51.8" cy="0" rx="2.6" ry="10.2" fill="#d0d0d0"/>
</g>
<g id="labels" font-size="19.5">
<text x="152.2" y="750" text-anchor="middle" letter-spacing="0.22">liquid-biopsy</text>
<text x="679.6" y="579" text-anchor="middle">plasma</text>
<text x="679.8" y="601.2" text-anchor="middle" letter-spacing="0.1">proteome</text>
<text x="802.4" y="503" text-anchor="middle" letter-spacing="0.25">Nanoparticle</text>
<text x="802.2" y="525" text-anchor="middle" font-size="18.2">ENRICHMENT</text>
</g>
</svg>
</body></html>
